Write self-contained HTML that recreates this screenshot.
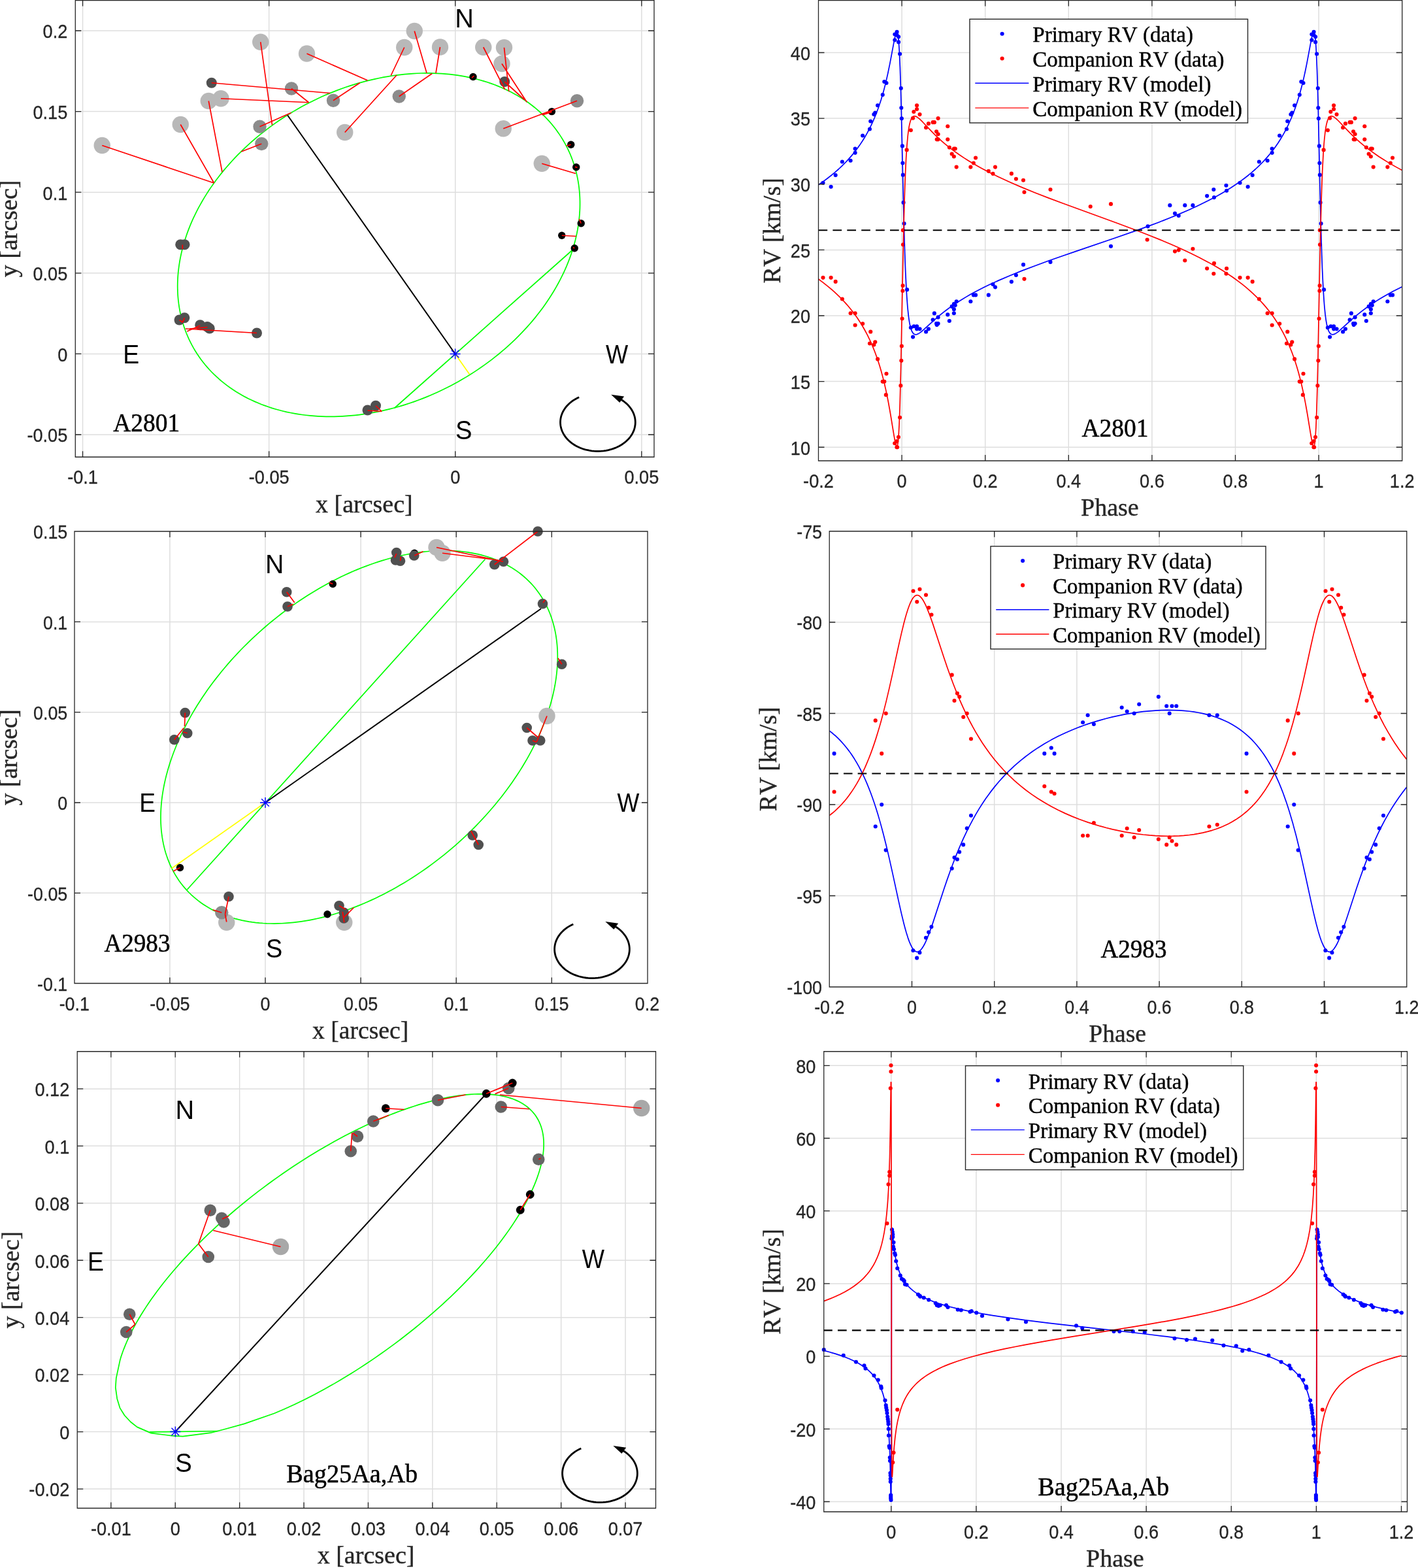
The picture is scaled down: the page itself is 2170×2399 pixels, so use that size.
<!DOCTYPE html>
<html><head><meta charset="utf-8"><title>Orbits and RV curves</title>
<style>html,body{margin:0;padding:0;background:#fff}svg{display:block}text{font-kerning:none}</style></head>
<body>
<svg width="2170" height="2399" viewBox="0 0 2170 2399">
<rect width="2170" height="2399" fill="#fff"/>
<defs>
<clipPath id="c1"><rect x="115.3" y="0.5" width="885.7" height="698.75"/></clipPath>
<clipPath id="c2"><rect x="114" y="813" width="877" height="691.5"/></clipPath>
<clipPath id="c3"><rect x="118.25" y="1608.75" width="885.25" height="698.75"/></clipPath>
<clipPath id="c4"><rect x="1252.5" y="0.5" width="893.25" height="704.5"/></clipPath>
<clipPath id="c5"><rect x="1269.25" y="812.75" width="883.5" height="697.25"/></clipPath>
<clipPath id="c6"><rect x="1260.75" y="1608.75" width="892.75" height="704.25"/></clipPath>
</defs>
<rect x="115.3" y="0.5" width="885.7" height="698.75" fill="#fff"/>
<path d="M126.55 0.5V699.25M411.65 0.5V699.25M696.75 0.5V699.25M981.85 0.5V699.25M115.3 665H1001M115.3 541.4H1001M115.3 417.8H1001M115.3 294.2H1001M115.3 170.6H1001M115.3 47H1001" stroke="#dedede" stroke-width="1.5" fill="none"/>
<path d="M876 382.5L603.75 624.25" stroke="#00ff00" stroke-width="1.7" fill="none" clip-path="url(#c1)"/>
<path d="M293.8 528.15 296.27 532.6 298.87 536.98 301.59 541.28 304.43 545.51 307.39 549.67 310.47 553.75 313.67 557.75 316.99 561.66 320.43 565.5 323.98 569.25 327.64 572.92 331.42 576.49 335.3 579.98 339.29 583.38 343.39 586.69 347.59 589.9 351.89 593.02 356.3 596.04 360.8 598.96 365.4 601.79 370.1 604.51 374.88 607.13 379.76 609.65 384.73 612.07 389.78 614.38 394.92 616.58 400.13 618.68 405.43 620.67 410.8 622.55 416.25 624.33 421.77 625.99 427.36 627.54 433.02 628.98 438.74 630.31 444.53 631.52 450.37 632.62 456.27 633.61 462.23 634.48 468.23 635.24 474.29 635.88 480.39 636.41 486.54 636.82 492.73 637.12 498.95 637.3 505.21 637.36 511.51 637.31 517.83 637.14 524.19 636.86 530.56 636.46 536.96 635.94 543.38 635.31 549.81 634.57 556.26 633.71 562.71 632.73 569.18 631.64 575.65 630.44 582.12 629.13 588.59 627.7 595.05 626.16 601.51 624.51 607.96 622.75 614.4 620.88 620.82 618.9 627.22 616.81 633.6 614.62 639.96 612.32 646.29 609.91 652.59 607.4 658.86 604.79 665.1 602.08 671.3 599.26 677.45 596.35 683.57 593.34 689.63 590.23 695.65 587.03 701.62 583.74 707.53 580.35 713.39 576.87 719.19 573.3 724.93 569.64 730.6 565.9 736.2 562.07 741.74 558.16 747.21 554.17 752.6 550.1 757.91 545.95 763.15 541.73 768.3 537.43 773.37 533.06 778.36 528.63 783.26 524.12 788.07 519.55 792.78 514.91 797.41 510.21 801.93 505.45 806.36 500.64 810.69 495.76 814.91 490.84 819.04 485.86 823.05 480.83 826.96 475.76 830.76 470.64 834.45 465.48 838.02 460.28 841.49 455.05 844.83 449.77 848.06 444.47 851.17 439.13 854.16 433.76 857.03 428.37 859.78 422.95 862.4 417.52 864.9 412.06 867.28 406.59 869.52 401.1 871.64 395.6 873.63 390.1 875.49 384.58 877.21 379.06 878.81 373.54 880.28 368.02 881.61 362.5 882.81 356.99 883.87 351.49 884.8 345.99 885.6 340.51 886.26 335.05 886.78 329.6 887.17 324.17 887.43 318.76 887.54 313.38 887.53 308.02 887.37 302.7 887.08 297.41 886.66 292.15 886.09 286.92 885.4 281.74 884.57 276.59 883.6 271.49 882.5 266.44 881.26 261.43 879.9 256.48 878.4 251.57 876.77 246.72 875 241.93 873.11 237.19 871.09 232.52 868.93 227.9 866.65 223.36 864.25 218.88 861.72 214.47 859.06 210.12 856.28 205.86 853.38 201.66 850.35 197.55 847.21 193.51 843.95 189.55 840.57 185.67 837.08 181.88 833.47 178.17 829.75 174.55 825.93 171.01 821.99 167.57 817.94 164.22 813.79 160.96 809.54 157.79 805.19 154.72 800.73 151.75 796.18 148.88 791.53 146.1 786.79 143.43 781.96 140.86 777.04 138.39 772.03 136.03 766.93 133.77 761.76 131.62 756.5 129.57 751.16 127.63 745.75 125.81 740.27 124.09 734.71 122.48 729.09 120.99 723.4 119.6 717.64 118.33 711.83 117.18 705.96 116.13 700.03 115.2 694.05 114.39 688.01 113.69 681.93 113.1 675.81 112.63 669.64 112.28 663.43 112.04 657.19 111.92 650.91 111.91 644.6 112.02 638.26 112.25 631.9 112.59 625.51 113.05 619.1 113.62 612.68 114.31 606.24 115.11 599.78 116.03 593.32 117.06 586.86 118.21 580.39 119.47 573.92 120.84 567.45 122.32 560.99 123.92 554.53 125.62 548.09 127.44 541.66 129.36 535.25 131.39 528.86 133.54 522.49 135.78 516.14 138.13 509.82 140.59 503.54 143.15 497.28 145.81 491.07 148.58 484.89 151.44 478.76 154.4 472.66 157.46 466.62 160.62 460.63 163.87 454.69 167.21 448.8 170.64 442.97 174.17 437.2 177.78 431.5 181.48 425.86 185.27 420.29 189.13 414.79 193.09 409.36 197.12 404.01 201.22 398.73 205.41 393.53 209.67 388.42 214 383.39 218.41 378.45 222.88 373.6 227.42 368.83 232.03 364.16 236.69 359.59 241.42 355.11 246.21 350.73 251.06 346.46 255.96 342.28 260.91 338.21 265.91 334.25 270.96 330.4 276.05 326.65 281.19 323.02 286.37 319.5 291.59 316.09 296.85 312.81 302.14 309.64 307.46 306.59 312.81 303.66 318.19 300.85 323.6 298.16 329.02 295.6 334.47 293.16 339.94 290.86 345.42 288.67 350.91 286.62 356.41 284.7 361.92 282.9 367.44 281.24 372.96 279.71 378.48 278.31 384 277.05 389.51 275.91 395.02 274.92 400.52 274.05 406.01 273.33 411.48 272.73 416.94 272.27 422.38 271.95 427.8 271.77 433.19 271.72 438.56 271.8 443.9 272.03 449.21 272.38 454.49 272.88 459.73 273.51 464.94 274.27 470.1 275.17 475.22 276.2 480.3 277.37 485.33 278.67 490.31 280.11 495.25 281.67 500.12 283.37 504.95 285.2 509.71 287.16 514.42 289.24 519.06 291.46 523.64 293.8 528.15" stroke="#00ff00" stroke-width="1.7" fill="none" stroke-linejoin="round" clip-path="url(#c1)"/>
<path d="M440 176.25L696.6 541.5" stroke="#000" stroke-width="2.0" fill="none" clip-path="url(#c1)"/>
<path d="M696.6 541.5L718.75 573" stroke="#ffff00" stroke-width="1.7" fill="none" clip-path="url(#c1)"/>
<circle cx="156.25" cy="222.5" r="12.7" fill="#b8b8b8"/>
<circle cx="276.25" cy="190.5" r="12.7" fill="#b8b8b8"/>
<circle cx="319.25" cy="154.5" r="12.7" fill="#b8b8b8"/>
<circle cx="338" cy="150.75" r="12.7" fill="#b8b8b8"/>
<circle cx="398.75" cy="64.25" r="12.7" fill="#b8b8b8"/>
<circle cx="469.5" cy="82" r="12.7" fill="#b8b8b8"/>
<circle cx="618.75" cy="72.5" r="12.7" fill="#b8b8b8"/>
<circle cx="634.25" cy="47.5" r="12.7" fill="#b8b8b8"/>
<circle cx="673.5" cy="72" r="12.7" fill="#b8b8b8"/>
<circle cx="739.75" cy="72.25" r="12.7" fill="#b8b8b8"/>
<circle cx="771.5" cy="72.75" r="12.7" fill="#b8b8b8"/>
<circle cx="768" cy="97.5" r="12.7" fill="#b8b8b8"/>
<circle cx="527.75" cy="202.5" r="12.7" fill="#b8b8b8"/>
<circle cx="770.25" cy="196.75" r="12.7" fill="#b8b8b8"/>
<circle cx="829.25" cy="250.25" r="12.7" fill="#b8b8b8"/>
<circle cx="446" cy="135.5" r="10.2" fill="#8c8c8c"/>
<circle cx="397.5" cy="193.75" r="10.2" fill="#8c8c8c"/>
<circle cx="400.25" cy="220" r="10.2" fill="#8c8c8c"/>
<circle cx="510" cy="153.75" r="10.2" fill="#8c8c8c"/>
<circle cx="610.75" cy="147.5" r="10.2" fill="#8c8c8c"/>
<circle cx="883" cy="154.25" r="10.2" fill="#8c8c8c"/>
<circle cx="323.75" cy="126.75" r="8.0" fill="#505050"/>
<circle cx="772.25" cy="125" r="8.0" fill="#505050"/>
<circle cx="276.25" cy="374.25" r="8.0" fill="#505050"/>
<circle cx="282.5" cy="374.25" r="8.0" fill="#505050"/>
<circle cx="274.5" cy="489.5" r="8.0" fill="#505050"/>
<circle cx="282.3" cy="486.25" r="8.0" fill="#505050"/>
<circle cx="306.25" cy="497.25" r="8.0" fill="#505050"/>
<circle cx="317.25" cy="500" r="8.0" fill="#505050"/>
<circle cx="320.75" cy="502.5" r="8.0" fill="#505050"/>
<circle cx="393" cy="509.5" r="8.0" fill="#505050"/>
<circle cx="562.5" cy="627.5" r="8.0" fill="#505050"/>
<circle cx="575" cy="620.75" r="8.0" fill="#505050"/>
<circle cx="724" cy="117.5" r="5.7" fill="#000000"/>
<circle cx="844.4" cy="170.6" r="5.7" fill="#000000"/>
<circle cx="873.75" cy="221.25" r="5.7" fill="#000000"/>
<circle cx="881.75" cy="255.75" r="5.7" fill="#000000"/>
<circle cx="889.25" cy="341.75" r="5.7" fill="#000000"/>
<circle cx="859.75" cy="360.25" r="5.7" fill="#000000"/>
<circle cx="879.25" cy="379.75" r="5.7" fill="#000000"/>
<path d="M156.25 222.5L327.5 280M276.25 190.5L327.5 280M319.25 154.5L340 263.25M338 150.75L472.5 156.75M398.75 64.25L416.5 191.25M469.5 82L562.5 123M618.75 72.5L598.25 115.5M634.25 47.5L653 111.75M673.5 72L667 111.75M739.75 72.25L772.5 136.75M771.5 72.75L778.75 140M768 97.5L806.25 156.25M527.75 202.5L607 115M770.25 196.75L883 154.25M829.25 250.25L881 265.5M446 135.5L472.5 156.75M397.5 193.75L445.5 172.5M400.25 220L369.25 232M510 153.75L550.75 126.75M610.75 147.5L661.25 112.5M323.75 126.75L505 142.5M772.25 125L802.5 152.5M279.3 374.5L279.3 381M274.5 489.5L279.5 493.2M282.3 486.25L279.5 493.2M393 509.5L283.75 503M317.5 500.5L290 503M306.25 498L286.25 507M562.5 628L584.25 629.5M575 620.75L584.25 629.5M722 119L725.5 116.2M873.75 221.25L866.75 223.25M880 255.4L883.5 256.2M889.25 341.75L886.25 335M859.75 360.25L881.75 361.5M879.25 379.75L877 378.6" stroke="#ff0000" stroke-width="1.7" fill="none" clip-path="url(#c1)"/>
<path d="M829.75 175.2L844.4 170.6" stroke="#ff0000" stroke-width="3" fill="none" clip-path="url(#c1)"/>
<path d="M688.6 541.5h16M696.6 533.5v16M690.8 535.7l11.6 11.6M690.8 547.3l11.6 -11.6" stroke="#0000ff" stroke-width="1.4" fill="none"/>
<text transform="translate(696.3 41.9) scale(0.984 1)" font-family="'Liberation Sans', sans-serif" font-size="40.3" fill="#000">N</text>
<text transform="translate(188.3 556.3) scale(0.927 1)" font-family="'Liberation Sans', sans-serif" font-size="40.3" fill="#000">E</text>
<text transform="translate(697 672) scale(0.95 1)" font-family="'Liberation Sans', sans-serif" font-size="40.3" fill="#000">S</text>
<text transform="translate(927 556.3) scale(0.9 1)" font-family="'Liberation Sans', sans-serif" font-size="40.3" fill="#000">W</text>
<text transform="translate(173.3 660) scale(0.934 1)" font-family="'Liberation Serif', serif" font-size="40.1" fill="#000" stroke="#000" stroke-width="0.5" text-anchor="start">A2801</text>
<path d="M886.2 607.74 L883.06 609.24 L880.04 610.9 L877.18 612.71 L874.46 614.66 L871.92 616.73 L869.56 618.93 L867.38 621.25 L865.41 623.66 L863.64 626.17 L862.08 628.76 L860.74 631.43 L859.63 634.15 L858.74 636.93 L858.09 639.74 L857.68 642.58 L857.51 645.43 L857.57 648.29 L857.87 651.14 L858.41 653.97 L859.19 656.76 L860.19 659.51 L861.43 662.2 L862.88 664.83 L864.56 667.38 L866.44 669.84 L868.52 672.2 L870.8 674.46 L873.26 676.59 L875.89 678.6 L878.69 680.47 L881.63 682.2 L884.72 683.78 L887.93 685.21 L891.25 686.47 L894.67 687.56 L898.18 688.48 L901.75 689.22 L905.38 689.79 L909.05 690.17 L912.74 690.37 L916.45 690.38 L920.14 690.21 L923.82 689.86 L927.45 689.33 L931.04 688.61 L934.56 687.72 L937.99 686.66 L941.33 685.42 L944.56 684.03 L947.67 682.47 L950.64 680.77 L953.46 678.92 L956.12 676.93 L958.61 674.81 L960.92 672.58 L963.03 670.24 L964.95 667.79 L966.66 665.26 L968.15 662.64 L969.42 659.96 L970.46 657.22 L971.28 654.43 L971.85 651.61 L972.2 648.76 L972.3 645.9 L972.16 643.05 L971.79 640.21 L971.18 637.39 L970.33 634.61 L969.26 631.87 L967.96 629.2 L966.44 626.59 L964.7 624.07 L962.75 621.64 L960.61 619.31 L958.28 617.09 L955.76 614.99 L953.08 613.02 L950.24 611.19" stroke="#000" stroke-width="2.8" fill="none"/>
<path d="M935.2 603.8L955.1 606.5L948.3 615.9Z" fill="#000"/>
<path d="M115.3 0.5H1001V699.25H115.3ZM126.55 699.25v-9M126.55 0.5v9M411.65 699.25v-9M411.65 0.5v9M696.75 699.25v-9M696.75 0.5v9M981.85 699.25v-9M981.85 0.5v9M115.3 665h9M1001 665h-9M115.3 541.4h9M1001 541.4h-9M115.3 417.8h9M1001 417.8h-9M115.3 294.2h9M1001 294.2h-9M115.3 170.6h9M1001 170.6h-9M115.3 47h9M1001 47h-9" stroke="#262626" stroke-width="1.3" fill="none" stroke-linecap="butt"/>
<g font-family="'Liberation Sans', sans-serif" font-size="30" fill="#262626" stroke="#262626" stroke-width="0.3">
<text transform="translate(126.55 740.25) scale(0.905 1)" text-anchor="middle">-0.1</text>
<text transform="translate(411.65 740.25) scale(0.905 1)" text-anchor="middle">-0.05</text>
<text transform="translate(696.75 740.25) scale(0.905 1)" text-anchor="middle">0</text>
<text transform="translate(981.85 740.25) scale(0.905 1)" text-anchor="middle">0.05</text>
<text transform="translate(103.3 676.3) scale(0.905 1)" text-anchor="end">-0.05</text>
<text transform="translate(103.3 552.7) scale(0.905 1)" text-anchor="end">0</text>
<text transform="translate(103.3 429.1) scale(0.905 1)" text-anchor="end">0.05</text>
<text transform="translate(103.3 305.5) scale(0.905 1)" text-anchor="end">0.1</text>
<text transform="translate(103.3 181.9) scale(0.905 1)" text-anchor="end">0.15</text>
<text transform="translate(103.3 58.3) scale(0.905 1)" text-anchor="end">0.2</text>
</g>
<g font-family="'Liberation Serif', serif" font-size="38" fill="#262626" stroke="#262626" stroke-width="0.4">
<text x="557.35" y="783.55" text-anchor="middle">x [arcsec]</text>
<text transform="translate(25.6 349.88) rotate(-90)" text-anchor="middle">y [arcsec]</text>
</g>
<rect x="114" y="813" width="877" height="691.5" fill="#fff"/>
<path d="M259.9 813V1504.5M406 813V1504.5M552.1 813V1504.5M698.2 813V1504.5M844.3 813V1504.5M114 1366.3H991M114 1228H991M114 1089.7H991M114 951.4H991" stroke="#dedede" stroke-width="1.5" fill="none"/>
<path d="M742.5 855.5L286.25 1361.25" stroke="#00ff00" stroke-width="1.7" fill="none" clip-path="url(#c2)"/>
<path d="M282.82 1358.67 285.92 1362.14 289.15 1365.5 292.48 1368.76 295.93 1371.92 299.5 1374.96 303.17 1377.9 306.95 1380.73 310.84 1383.44 314.84 1386.04 318.93 1388.53 323.13 1390.91 327.44 1393.16 331.83 1395.3 336.33 1397.32 340.92 1399.23 345.6 1401.01 350.37 1402.67 355.23 1404.21 360.17 1405.63 365.2 1406.92 370.31 1408.1 375.5 1409.14 380.77 1410.07 386.11 1410.87 391.52 1411.54 397 1412.09 402.55 1412.51 408.17 1412.81 413.85 1412.98 419.58 1413.03 425.38 1412.95 431.23 1412.74 437.13 1412.41 443.08 1411.95 449.08 1411.37 455.12 1410.66 461.21 1409.83 467.33 1408.87 473.49 1407.79 479.69 1406.58 485.91 1405.26 492.16 1403.8 498.44 1402.23 504.74 1400.54 511.06 1398.72 517.4 1396.79 523.75 1394.73 530.12 1392.56 536.49 1390.27 542.87 1387.87 549.25 1385.35 555.63 1382.72 562.01 1379.97 568.38 1377.12 574.74 1374.15 581.1 1371.07 587.44 1367.89 593.76 1364.6 600.06 1361.21 606.34 1357.71 612.6 1354.11 618.83 1350.41 625.03 1346.62 631.19 1342.72 637.32 1338.73 643.41 1334.65 649.46 1330.48 655.46 1326.22 661.42 1321.87 667.33 1317.43 673.18 1312.91 678.99 1308.31 684.73 1303.63 690.42 1298.87 696.04 1294.04 701.6 1289.13 707.09 1284.15 712.51 1279.1 717.86 1273.99 723.13 1268.81 728.33 1263.56 733.45 1258.26 738.49 1252.9 743.45 1247.49 748.32 1242.02 753.1 1236.5 757.79 1230.94 762.39 1225.32 766.9 1219.67 771.31 1213.97 775.62 1208.24 779.83 1202.47 783.94 1196.67 787.95 1190.84 791.85 1184.98 795.65 1179.09 799.33 1173.18 802.91 1167.25 806.37 1161.31 809.73 1155.35 812.96 1149.37 816.08 1143.39 819.08 1137.4 821.97 1131.41 824.73 1125.41 827.37 1119.42 829.89 1113.43 832.29 1107.44 834.56 1101.47 836.7 1095.51 838.72 1089.56 840.61 1083.62 842.37 1077.71 844 1071.82 845.51 1065.95 846.88 1060.11 848.12 1054.3 849.23 1048.53 850.2 1042.78 851.05 1037.08 851.76 1031.42 852.34 1025.79 852.78 1020.22 853.09 1014.69 853.27 1009.21 853.31 1003.78 853.22 998.41 852.99 993.09 852.63 987.84 852.13 982.64 851.51 977.51 850.75 972.45 849.85 967.45 848.82 962.53 847.67 957.68 846.38 952.9 844.95 948.2 843.4 943.58 841.72 939.05 839.91 934.59 837.97 930.22 835.91 925.94 833.71 921.74 831.4 917.64 828.95 913.63 826.39 909.72 823.7 905.9 820.89 902.18 817.96 898.55 814.92 895.03 811.75 891.62 808.47 888.3 805.08 885.09 801.57 881.99 797.95 879 794.22 876.12 790.39 873.35 786.45 870.69 782.4 868.15 778.25 865.71 774 863.4 769.65 861.2 765.2 859.12 760.66 857.16 756.03 855.32 751.3 853.59 746.48 851.99 741.58 850.51 736.6 849.16 731.53 847.92 726.38 846.81 721.15 845.83 715.84 844.96 710.47 844.23 705.02 843.62 699.5 843.13 693.92 842.77 688.27 842.53 682.57 842.42 676.8 842.44 670.98 842.58 665.1 842.85 659.17 843.25 653.2 843.77 647.18 844.41 641.11 845.19 635.01 846.08 628.87 847.1 622.69 848.24 616.48 849.51 610.24 850.9 603.97 852.41 597.68 854.05 591.37 855.8 585.04 857.68 578.7 859.67 572.34 861.78 565.97 864.01 559.6 866.36 553.22 868.82 546.83 871.4 540.45 874.09 534.08 876.89 527.71 879.8 521.35 882.82 515 885.95 508.67 889.19 502.36 892.53 496.07 895.98 489.8 899.52 483.55 903.17 477.34 906.92 471.16 910.77 465.01 914.71 458.9 918.74 452.83 922.87 446.81 927.09 440.82 931.39 434.89 935.79 429.01 940.27 423.18 944.83 417.41 949.47 411.69 954.19 406.04 958.99 400.45 963.86 394.92 968.8 389.46 973.81 384.08 978.9 378.77 984.04 373.53 989.25 368.37 994.53 363.29 999.86 358.29 1005.25 353.38 1010.69 348.55 1016.18 343.82 1021.72 339.17 1027.31 334.62 1032.95 330.16 1038.62 325.8 1044.34 321.53 1050.09 317.37 1055.87 313.31 1061.69 309.36 1067.54 305.51 1073.41 301.77 1079.31 298.14 1085.23 294.62 1091.16 291.21 1097.12 287.91 1103.09 284.74 1109.06 281.67 1115.05 278.73 1121.04 275.91 1127.04 273.21 1133.03 270.62 1139.02 268.17 1145.01 265.83 1150.99 263.63 1156.96 261.55 1162.92 259.59 1168.86 257.76 1174.78 256.07 1180.69 254.5 1186.57 253.06 1192.42 251.76 1198.24 250.58 1204.04 249.54 1209.8 248.63 1215.52 247.85 1221.2 247.21 1226.85 246.7 1232.45 246.32 1238 246.08 1243.51 245.97 1248.96 245.99 1254.36 246.15 1259.7 246.45 1264.99 246.87 1270.22 247.44 1275.38 248.13 1280.47 248.96 1285.5 249.92 1290.46 251.01 1295.35 252.23 1300.17 253.59 1304.9 255.08 1309.56 256.69 1314.14 258.44 1318.64 260.31 1323.05 262.32 1327.38 264.45 1331.62 266.7 1335.77 269.08 1339.82 271.59 1343.79 274.21 1347.65 276.96 1351.42 279.83 1355.1 282.82 1358.67" stroke="#00ff00" stroke-width="1.7" fill="none" stroke-linejoin="round" clip-path="url(#c2)"/>
<path d="M406 1228L828 931.25" stroke="#000" stroke-width="2.0" fill="none" clip-path="url(#c2)"/>
<path d="M406 1228L262.5 1328.75" stroke="#ffff00" stroke-width="1.7" fill="none" clip-path="url(#c2)"/>
<circle cx="668" cy="837.5" r="12.7" fill="#b8b8b8"/>
<circle cx="677" cy="846.25" r="12.7" fill="#b8b8b8"/>
<circle cx="837" cy="1095.5" r="12.7" fill="#b8b8b8"/>
<circle cx="346.75" cy="1411.25" r="12.7" fill="#b8b8b8"/>
<circle cx="526.75" cy="1411.25" r="12.7" fill="#b8b8b8"/>
<circle cx="339.25" cy="1396.25" r="10.2" fill="#8c8c8c"/>
<circle cx="438.75" cy="905.75" r="7.8" fill="#505050"/>
<circle cx="440" cy="928" r="7.8" fill="#505050"/>
<circle cx="283.25" cy="1090.5" r="7.8" fill="#505050"/>
<circle cx="286.75" cy="1121.75" r="7.8" fill="#505050"/>
<circle cx="266.75" cy="1131.75" r="7.8" fill="#505050"/>
<circle cx="634.25" cy="846.25" r="5.7" fill="#000000"/>
<circle cx="633.75" cy="850" r="7.8" fill="#505050"/>
<circle cx="606.75" cy="845.5" r="7.8" fill="#505050"/>
<circle cx="605.5" cy="857" r="7.8" fill="#505050"/>
<circle cx="612.5" cy="858.25" r="7.8" fill="#505050"/>
<circle cx="756.75" cy="863.75" r="7.8" fill="#505050"/>
<circle cx="770.5" cy="859.25" r="7.8" fill="#505050"/>
<circle cx="823" cy="813" r="7.8" fill="#505050"/>
<circle cx="830.5" cy="923.75" r="7.8" fill="#505050"/>
<circle cx="859.75" cy="1016.25" r="7.8" fill="#505050"/>
<circle cx="806.25" cy="1113.5" r="7.8" fill="#505050"/>
<circle cx="815" cy="1133" r="7.8" fill="#505050"/>
<circle cx="826.75" cy="1133" r="7.8" fill="#505050"/>
<circle cx="723.25" cy="1278" r="7.8" fill="#505050"/>
<circle cx="732.25" cy="1292.5" r="7.8" fill="#505050"/>
<circle cx="350" cy="1371.75" r="7.8" fill="#505050"/>
<circle cx="519" cy="1385.75" r="7.8" fill="#505050"/>
<circle cx="526.25" cy="1396.25" r="7.8" fill="#505050"/>
<circle cx="526.25" cy="1405" r="7.8" fill="#505050"/>
<circle cx="509.25" cy="893.5" r="5.7" fill="#000000"/>
<circle cx="275.5" cy="1327.5" r="5.7" fill="#000000"/>
<circle cx="501" cy="1398.75" r="5.7" fill="#000000"/>
<path d="M438.75 905.75L450.75 922M440 928L448.75 924.25M283.25 1090.5L282.5 1111.25M286.75 1121.75L280 1120M266.75 1131.75L281.25 1113.75M606.75 847L604 853M612.5 858L613.5 852M634.25 850L647.5 843.75M823 813L756.75 863.75M831 922L834 918M859.75 1016.25L854 1007M806.25 1113.5L822.5 1127.5M815 1133L821 1135.5M720.75 1271.25L732.25 1292.5M350 1371.75L344.5 1398.75M344.5 1398.75L346.75 1410.5M519 1385.75L528.75 1391.25M541.25 1388.75L526.25 1403.75M524.25 1395L526.75 1411.25M668 837.5L770 859.25M677 846.25L762.5 857M837 1095.5L821.25 1135M339.25 1396.25L325.75 1392M509.25 893.5L503.75 891.25M275.5 1327.5L265 1333" stroke="#ff0000" stroke-width="1.7" fill="none"/>
<path d="M398 1228h16M406 1220v16M400.2 1222.2l11.6 11.6M400.2 1233.8l11.6 -11.6" stroke="#0000ff" stroke-width="1.4" fill="none"/>
<text transform="translate(406 876.9) scale(0.984 1)" font-family="'Liberation Sans', sans-serif" font-size="39.9" fill="#000">N</text>
<text transform="translate(213.3 1242.3) scale(0.927 1)" font-family="'Liberation Sans', sans-serif" font-size="39.9" fill="#000">E</text>
<text transform="translate(407 1464.6) scale(0.95 1)" font-family="'Liberation Sans', sans-serif" font-size="39.9" fill="#000">S</text>
<text transform="translate(944.5 1242.3) scale(0.9 1)" font-family="'Liberation Sans', sans-serif" font-size="39.9" fill="#000">W</text>
<text transform="translate(159.5 1456.3) scale(0.934 1)" font-family="'Liberation Serif', serif" font-size="39.7" fill="#000" stroke="#000" stroke-width="0.5" text-anchor="start">A2983</text>
<path d="M877.3 1413.94 L874.16 1415.44 L871.14 1417.1 L868.28 1418.91 L865.56 1420.86 L863.02 1422.93 L860.66 1425.13 L858.48 1427.45 L856.51 1429.86 L854.74 1432.37 L853.18 1434.96 L851.84 1437.63 L850.73 1440.35 L849.84 1443.13 L849.19 1445.94 L848.78 1448.78 L848.61 1451.63 L848.67 1454.49 L848.97 1457.34 L849.51 1460.17 L850.29 1462.96 L851.29 1465.71 L852.53 1468.4 L853.98 1471.03 L855.66 1473.58 L857.54 1476.04 L859.62 1478.4 L861.9 1480.66 L864.36 1482.79 L866.99 1484.8 L869.79 1486.67 L872.73 1488.4 L875.82 1489.98 L879.03 1491.41 L882.35 1492.67 L885.77 1493.76 L889.28 1494.68 L892.85 1495.42 L896.48 1495.99 L900.15 1496.37 L903.84 1496.57 L907.55 1496.58 L911.24 1496.41 L914.92 1496.06 L918.55 1495.53 L922.14 1494.81 L925.66 1493.92 L929.09 1492.86 L932.43 1491.62 L935.66 1490.23 L938.77 1488.67 L941.74 1486.97 L944.56 1485.12 L947.22 1483.13 L949.71 1481.01 L952.02 1478.78 L954.13 1476.44 L956.05 1473.99 L957.76 1471.46 L959.25 1468.84 L960.52 1466.16 L961.56 1463.42 L962.38 1460.63 L962.95 1457.81 L963.3 1454.96 L963.4 1452.1 L963.26 1449.25 L962.89 1446.41 L962.28 1443.59 L961.43 1440.81 L960.36 1438.07 L959.06 1435.4 L957.54 1432.79 L955.8 1430.27 L953.85 1427.84 L951.71 1425.51 L949.38 1423.29 L946.86 1421.19 L944.18 1419.22 L941.34 1417.39" stroke="#000" stroke-width="2.8" fill="none"/>
<path d="M926.3 1410L946.2 1412.7L939.4 1422.1Z" fill="#000"/>
<path d="M114 813H991V1504.5H114ZM259.9 1504.5v-9M259.9 813v9M406 1504.5v-9M406 813v9M552.1 1504.5v-9M552.1 813v9M698.2 1504.5v-9M698.2 813v9M844.3 1504.5v-9M844.3 813v9M114 1366.3h9M991 1366.3h-9M114 1228h9M991 1228h-9M114 1089.7h9M991 1089.7h-9M114 951.4h9M991 951.4h-9" stroke="#262626" stroke-width="1.3" fill="none" stroke-linecap="butt"/>
<g font-family="'Liberation Sans', sans-serif" font-size="29.7" fill="#262626" stroke="#262626" stroke-width="0.3">
<text transform="translate(113.8 1545.5) scale(0.905 1)" text-anchor="middle">-0.1</text>
<text transform="translate(259.9 1545.5) scale(0.905 1)" text-anchor="middle">-0.05</text>
<text transform="translate(406 1545.5) scale(0.905 1)" text-anchor="middle">0</text>
<text transform="translate(552.1 1545.5) scale(0.905 1)" text-anchor="middle">0.05</text>
<text transform="translate(698.2 1545.5) scale(0.905 1)" text-anchor="middle">0.1</text>
<text transform="translate(844.3 1545.5) scale(0.905 1)" text-anchor="middle">0.15</text>
<text transform="translate(990.4 1545.5) scale(0.905 1)" text-anchor="middle">0.2</text>
<text transform="translate(103.3 1515.9) scale(0.905 1)" text-anchor="end">-0.1</text>
<text transform="translate(103.3 1377.6) scale(0.905 1)" text-anchor="end">-0.05</text>
<text transform="translate(103.3 1239.3) scale(0.905 1)" text-anchor="end">0</text>
<text transform="translate(103.3 1101) scale(0.905 1)" text-anchor="end">0.05</text>
<text transform="translate(103.3 962.7) scale(0.905 1)" text-anchor="end">0.1</text>
<text transform="translate(103.3 824.4) scale(0.905 1)" text-anchor="end">0.15</text>
</g>
<g font-family="'Liberation Serif', serif" font-size="37.62" fill="#262626" stroke="#262626" stroke-width="0.4">
<text x="551.7" y="1588.8" text-anchor="middle">x [arcsec]</text>
<text transform="translate(26.3 1158.75) rotate(-90)" text-anchor="middle">y [arcsec]</text>
</g>
<rect x="118.25" y="1608.75" width="885.25" height="698.75" fill="#fff"/>
<path d="M169.85 1608.75V2307.5M268.25 1608.75V2307.5M366.65 1608.75V2307.5M465.05 1608.75V2307.5M563.45 1608.75V2307.5M661.85 1608.75V2307.5M760.25 1608.75V2307.5M858.65 1608.75V2307.5M957.05 1608.75V2307.5M118.25 2278.05H1003.5M118.25 2190.6H1003.5M118.25 2103.15H1003.5M118.25 2015.7H1003.5M118.25 1928.25H1003.5M118.25 1840.8H1003.5M118.25 1753.35H1003.5M118.25 1665.9H1003.5" stroke="#dedede" stroke-width="1.5" fill="none"/>
<path d="M229.1 2190.9L333.2 2189.5" stroke="#00ff00" stroke-width="1.7" fill="none" clip-path="url(#c3)"/>
<path d="M419.55 2162.5 427.16 2159.31 434.81 2155.98 442.51 2152.53 450.24 2148.96 458 2145.26 465.79 2141.44 473.61 2137.5 481.44 2133.45 489.28 2129.28 497.13 2125 504.99 2120.61 512.84 2116.12 520.7 2111.52 528.54 2106.82 536.37 2102.02 544.18 2097.13 551.97 2092.14 559.73 2087.06 567.46 2081.89 575.15 2076.64 582.8 2071.31 590.41 2065.9 597.97 2060.42 605.47 2054.86 612.92 2049.24 620.3 2043.54 627.62 2037.79 634.87 2031.98 642.04 2026.11 649.13 2020.19 656.14 2014.22 663.07 2008.21 669.9 2002.15 676.64 1996.06 683.27 1989.93 689.81 1983.77 696.24 1977.58 702.55 1971.37 708.76 1965.14 714.84 1958.89 720.81 1952.62 726.65 1946.35 732.36 1940.07 737.94 1933.79 743.39 1927.51 748.7 1921.23 753.87 1914.96 758.9 1908.7 763.78 1902.46 768.51 1896.24 773.09 1890.04 777.51 1883.87 781.78 1877.72 785.88 1871.61 789.83 1865.54 793.61 1859.51 797.22 1853.52 800.67 1847.58 803.95 1841.69 807.05 1835.85 809.98 1830.07 812.73 1824.35 815.31 1818.69 817.71 1813.11 819.92 1807.59 821.96 1802.14 823.81 1796.78 825.48 1791.49 826.96 1786.29 828.26 1781.17 829.37 1776.14 830.3 1771.2 831.04 1766.36 831.59 1761.62 831.95 1756.97 832.12 1752.43 832.11 1747.99 831.9 1743.66 831.51 1739.45 830.93 1735.34 830.16 1731.35 829.2 1727.48 828.06 1723.73 826.73 1720.1 825.22 1716.59 823.52 1713.21 821.63 1709.96 819.57 1706.84 817.32 1703.84 814.89 1700.99 812.29 1698.27 809.51 1695.68 806.55 1693.23 803.41 1690.93 800.11 1688.76 796.64 1686.74 792.99 1684.86 789.19 1683.12 785.21 1681.53 781.08 1680.08 776.79 1678.79 772.34 1677.64 767.73 1676.63 762.98 1675.78 758.07 1675.08 753.02 1674.53 747.83 1674.13 742.5 1673.87 737.03 1673.77 731.42 1673.82 725.69 1674.02 719.83 1674.38 713.84 1674.88 707.74 1675.53 701.51 1676.33 695.18 1677.28 688.73 1678.38 682.18 1679.63 675.52 1681.03 668.77 1682.57 661.93 1684.26 654.99 1686.09 647.96 1688.06 640.86 1690.18 633.67 1692.44 626.41 1694.84 619.08 1697.38 611.69 1700.06 604.23 1702.87 596.72 1705.81 589.15 1708.89 581.54 1712.1 573.88 1715.44 566.18 1718.9 558.44 1722.49 550.68 1726.2 542.88 1730.03 535.07 1733.99 527.24 1738.05 519.39 1742.23 511.54 1746.52 503.68 1750.92 495.83 1755.43 487.98 1760.04 480.14 1764.75 472.31 1769.56 464.5 1774.47 456.71 1779.47 448.96 1784.56 441.23 1789.73 433.54 1794.99 425.89 1800.33 418.29 1805.75 410.74 1811.24 403.24 1816.81 395.8 1822.44 388.42 1828.14 381.11 1833.9 373.88 1839.72 366.71 1845.59 359.63 1851.51 352.63 1857.49 345.71 1863.51 338.89 1869.57 332.17 1875.67 325.54 1881.8 319.02 1887.96 312.6 1894.15 306.3 1900.37 300.11 1906.6 294.03 1912.86 288.08 1919.12 282.26 1925.39 276.56 1931.67 270.99 1937.96 265.56 1944.24 260.26 1950.51 255.11 1956.78 250.1 1963.04 245.24 1969.28 240.52 1975.5 235.96 1981.69 231.56 1987.86 227.31 1994 223.22 2000.11 219.29 2006.18 215.53 2012.21 211.93 2018.19 208.51 2024.13 205.25 2030.01 202.16 2035.84 199.26 2041.62 196.52 2047.33 193.97 2052.98 191.59 2058.56 189.39 2064.07 187.38 2069.5 185.54 2074.86 183.9 2080.14 177.8 2108.5 176.8 2122.8 179.2 2139.9 183.5 2154.1 190.6 2165.5 199.9 2175.5 209.9 2183.4 231.3 2192.6 262.6 2196.6 279.7 2197.6 322.5 2192.2 345.3 2186.2 373.8 2178.4 419.55 2162.5" stroke="#00ff00" stroke-width="1.7" fill="none" stroke-linejoin="round" clip-path="url(#c3)"/>
<path d="M268.3 2190.5L744.25 1673.25" stroke="#000" stroke-width="2.0" fill="none" clip-path="url(#c3)"/>
<circle cx="429.5" cy="1907.5" r="12.7" fill="#a8a8a8"/>
<circle cx="981.75" cy="1695.5" r="12.7" fill="#a8a8a8"/>
<circle cx="321.75" cy="1851.75" r="9.3" fill="#666666"/>
<circle cx="339.25" cy="1863.75" r="9.3" fill="#666666"/>
<circle cx="342.5" cy="1869.5" r="9.3" fill="#666666"/>
<circle cx="318.75" cy="1923" r="9.3" fill="#666666"/>
<circle cx="198.25" cy="2010.75" r="9.3" fill="#666666"/>
<circle cx="193.25" cy="2038" r="9.3" fill="#666666"/>
<circle cx="536.75" cy="1761.25" r="9.3" fill="#666666"/>
<circle cx="547" cy="1738.75" r="9.3" fill="#666666"/>
<circle cx="571.25" cy="1715.5" r="9.3" fill="#666666"/>
<circle cx="670" cy="1683.25" r="9.3" fill="#666666"/>
<circle cx="766.75" cy="1693.5" r="9.3" fill="#666666"/>
<circle cx="778.25" cy="1665" r="9.3" fill="#666666"/>
<circle cx="824.25" cy="1773.75" r="9.3" fill="#666666"/>
<circle cx="590.25" cy="1695.75" r="6.4" fill="#000000"/>
<circle cx="744.25" cy="1673.25" r="6.4" fill="#000000"/>
<circle cx="784.25" cy="1657" r="6.4" fill="#000000"/>
<circle cx="811.25" cy="1827.5" r="6.4" fill="#000000"/>
<circle cx="796.25" cy="1851.25" r="6.4" fill="#000000"/>
<path d="M321.75 1851.75L303.75 1903M340 1865L350 1860.5M318.75 1923L303.75 1903M198.25 2010.75L206.75 2026.25M193.25 2038L206.75 2026.25M536.75 1761.25L538.75 1733M547 1738.75L540.5 1733.75M571.25 1715.5L595 1706.25M670 1683.25L712.5 1675M766.75 1693.5L810 1696.75M778.25 1665L757.5 1673.75M824.25 1773.75L827.5 1772M429.5 1907.5L326.25 1882.5M981.75 1695.5L765 1675M590.25 1695.75L618.75 1697.5M744.25 1673.25L784.25 1657M811.25 1827.5L796.25 1851.25" stroke="#ff0000" stroke-width="1.7" fill="none"/>
<path d="M260.3 2190.5h16M268.3 2182.5v16M262.5 2184.7l11.6 11.6M262.5 2196.3l11.6 -11.6" stroke="#0000ff" stroke-width="1.4" fill="none"/>
<text transform="translate(268.5 1712.3) scale(0.984 1)" font-family="'Liberation Sans', sans-serif" font-size="40.3" fill="#000">N</text>
<text transform="translate(134 1943.7) scale(0.927 1)" font-family="'Liberation Sans', sans-serif" font-size="40.3" fill="#000">E</text>
<text transform="translate(268.3 2252) scale(0.95 1)" font-family="'Liberation Sans', sans-serif" font-size="40.3" fill="#000">S</text>
<text transform="translate(890.7 1940) scale(0.9 1)" font-family="'Liberation Sans', sans-serif" font-size="40.3" fill="#000">W</text>
<text transform="translate(438.3 2267.5) scale(0.955 1)" font-family="'Liberation Serif', serif" font-size="40.1" fill="#000" stroke="#000" stroke-width="0.5" text-anchor="start">Bag25Aa,Ab</text>
<path d="M889.3 2215.94 L886.16 2217.44 L883.14 2219.1 L880.28 2220.91 L877.56 2222.86 L875.02 2224.93 L872.66 2227.13 L870.48 2229.45 L868.51 2231.86 L866.74 2234.37 L865.18 2236.96 L863.84 2239.63 L862.73 2242.35 L861.84 2245.13 L861.19 2247.94 L860.78 2250.78 L860.61 2253.63 L860.67 2256.49 L860.97 2259.34 L861.51 2262.17 L862.29 2264.96 L863.29 2267.71 L864.53 2270.4 L865.98 2273.03 L867.66 2275.58 L869.54 2278.04 L871.62 2280.4 L873.9 2282.66 L876.36 2284.79 L878.99 2286.8 L881.79 2288.67 L884.73 2290.4 L887.82 2291.98 L891.03 2293.41 L894.35 2294.67 L897.77 2295.76 L901.28 2296.68 L904.85 2297.42 L908.48 2297.99 L912.15 2298.37 L915.84 2298.57 L919.55 2298.58 L923.24 2298.41 L926.92 2298.06 L930.55 2297.53 L934.14 2296.81 L937.66 2295.92 L941.09 2294.86 L944.43 2293.62 L947.66 2292.23 L950.77 2290.67 L953.74 2288.97 L956.56 2287.12 L959.22 2285.13 L961.71 2283.01 L964.02 2280.78 L966.13 2278.44 L968.05 2275.99 L969.76 2273.46 L971.25 2270.84 L972.52 2268.16 L973.56 2265.42 L974.38 2262.63 L974.95 2259.81 L975.3 2256.96 L975.4 2254.1 L975.26 2251.25 L974.89 2248.41 L974.28 2245.59 L973.43 2242.81 L972.36 2240.07 L971.06 2237.4 L969.54 2234.79 L967.8 2232.27 L965.85 2229.84 L963.71 2227.51 L961.38 2225.29 L958.86 2223.19 L956.18 2221.22 L953.34 2219.39" stroke="#000" stroke-width="2.8" fill="none"/>
<path d="M938.3 2212L958.2 2214.7L951.4 2224.1Z" fill="#000"/>
<path d="M118.25 1608.75H1003.5V2307.5H118.25ZM169.85 2307.5v-9M169.85 1608.75v9M268.25 2307.5v-9M268.25 1608.75v9M366.65 2307.5v-9M366.65 1608.75v9M465.05 2307.5v-9M465.05 1608.75v9M563.45 2307.5v-9M563.45 1608.75v9M661.85 2307.5v-9M661.85 1608.75v9M760.25 2307.5v-9M760.25 1608.75v9M858.65 2307.5v-9M858.65 1608.75v9M957.05 2307.5v-9M957.05 1608.75v9M118.25 2278.05h9M1003.5 2278.05h-9M118.25 2190.6h9M1003.5 2190.6h-9M118.25 2103.15h9M1003.5 2103.15h-9M118.25 2015.7h9M1003.5 2015.7h-9M118.25 1928.25h9M1003.5 1928.25h-9M118.25 1840.8h9M1003.5 1840.8h-9M118.25 1753.35h9M1003.5 1753.35h-9M118.25 1665.9h9M1003.5 1665.9h-9" stroke="#262626" stroke-width="1.3" fill="none" stroke-linecap="butt"/>
<g font-family="'Liberation Sans', sans-serif" font-size="30" fill="#262626" stroke="#262626" stroke-width="0.3">
<text transform="translate(169.85 2348.5) scale(0.905 1)" text-anchor="middle">-0.01</text>
<text transform="translate(268.25 2348.5) scale(0.905 1)" text-anchor="middle">0</text>
<text transform="translate(366.65 2348.5) scale(0.905 1)" text-anchor="middle">0.01</text>
<text transform="translate(465.05 2348.5) scale(0.905 1)" text-anchor="middle">0.02</text>
<text transform="translate(563.45 2348.5) scale(0.905 1)" text-anchor="middle">0.03</text>
<text transform="translate(661.85 2348.5) scale(0.905 1)" text-anchor="middle">0.04</text>
<text transform="translate(760.25 2348.5) scale(0.905 1)" text-anchor="middle">0.05</text>
<text transform="translate(858.65 2348.5) scale(0.905 1)" text-anchor="middle">0.06</text>
<text transform="translate(957.05 2348.5) scale(0.905 1)" text-anchor="middle">0.07</text>
<text transform="translate(106.25 2289.35) scale(0.905 1)" text-anchor="end">-0.02</text>
<text transform="translate(106.25 2201.9) scale(0.905 1)" text-anchor="end">0</text>
<text transform="translate(106.25 2114.45) scale(0.905 1)" text-anchor="end">0.02</text>
<text transform="translate(106.25 2027) scale(0.905 1)" text-anchor="end">0.04</text>
<text transform="translate(106.25 1939.55) scale(0.905 1)" text-anchor="end">0.06</text>
<text transform="translate(106.25 1852.1) scale(0.905 1)" text-anchor="end">0.08</text>
<text transform="translate(106.25 1764.65) scale(0.905 1)" text-anchor="end">0.1</text>
<text transform="translate(106.25 1677.2) scale(0.905 1)" text-anchor="end">0.12</text>
</g>
<g font-family="'Liberation Serif', serif" font-size="38" fill="#262626" stroke="#262626" stroke-width="0.4">
<text x="560.08" y="2391.8" text-anchor="middle">x [arcsec]</text>
<text transform="translate(29 1958.12) rotate(-90)" text-anchor="middle">y [arcsec]</text>
</g>
<rect x="1252.5" y="0.5" width="893.25" height="704.5" fill="#fff"/>
<path d="M1380.1 0.5V705M1507.7 0.5V705M1635.3 0.5V705M1762.9 0.5V705M1890.5 0.5V705M2018.1 0.5V705M1252.5 684.25H2145.75M1252.5 583.62H2145.75M1252.5 483H2145.75M1252.5 382.38H2145.75M1252.5 281.75H2145.75M1252.5 181.12H2145.75M1252.5 80.5H2145.75" stroke="#dedede" stroke-width="1.5" fill="none"/>
<g fill="#0000ff">
<circle cx="1756.52" cy="346.35" r="3.05"/>
<circle cx="1790.33" cy="314.15" r="3.05"/>
<circle cx="1797.99" cy="326.43" r="3.05"/>
<circle cx="1803.73" cy="330.05" r="3.05"/>
<circle cx="1813.3" cy="314.15" r="3.05"/>
<circle cx="1825.42" cy="314.15" r="3.05"/>
<circle cx="1847.12" cy="299.86" r="3.05"/>
<circle cx="1857.32" cy="290" r="3.05"/>
<circle cx="1857.96" cy="302.08" r="3.05"/>
<circle cx="1876.46" cy="283.76" r="3.05"/>
<circle cx="1877.1" cy="291.81" r="3.05"/>
<circle cx="1259.52" cy="279.74" r="3.05"/>
<circle cx="1897.52" cy="279.74" r="3.05"/>
<circle cx="1271.64" cy="285.77" r="3.05"/>
<circle cx="1909.64" cy="285.77" r="3.05"/>
<circle cx="1278.66" cy="268.06" r="3.05"/>
<circle cx="1916.66" cy="268.06" r="3.05"/>
<circle cx="1288.87" cy="247.54" r="3.05"/>
<circle cx="1926.87" cy="247.54" r="3.05"/>
<circle cx="1301.63" cy="245.73" r="3.05"/>
<circle cx="1939.63" cy="245.73" r="3.05"/>
<circle cx="1308.64" cy="227.61" r="3.05"/>
<circle cx="1946.64" cy="227.61" r="3.05"/>
<circle cx="1308.64" cy="233.85" r="3.05"/>
<circle cx="1946.64" cy="233.85" r="3.05"/>
<circle cx="1320.13" cy="207.49" r="3.05"/>
<circle cx="1958.13" cy="207.49" r="3.05"/>
<circle cx="1330.97" cy="197.43" r="3.05"/>
<circle cx="1968.97" cy="197.43" r="3.05"/>
<circle cx="1332.25" cy="185.55" r="3.05"/>
<circle cx="1970.25" cy="185.55" r="3.05"/>
<circle cx="1337.35" cy="175.09" r="3.05"/>
<circle cx="1975.35" cy="175.09" r="3.05"/>
<circle cx="1339.27" cy="172.47" r="3.05"/>
<circle cx="1977.27" cy="172.47" r="3.05"/>
<circle cx="1343.1" cy="161.2" r="3.05"/>
<circle cx="1981.1" cy="161.2" r="3.05"/>
<circle cx="1350.75" cy="145.1" r="3.05"/>
<circle cx="1988.75" cy="145.1" r="3.05"/>
<circle cx="1353.3" cy="124.98" r="3.05"/>
<circle cx="1991.3" cy="124.98" r="3.05"/>
<circle cx="1356.49" cy="126.99" r="3.05"/>
<circle cx="1994.49" cy="126.99" r="3.05"/>
<circle cx="1369.38" cy="52.53" r="3.05"/>
<circle cx="2007.38" cy="52.53" r="3.05"/>
<circle cx="1369.38" cy="61.18" r="3.05"/>
<circle cx="2007.38" cy="61.18" r="3.05"/>
<circle cx="1372.57" cy="48.7" r="3.05"/>
<circle cx="2010.57" cy="48.7" r="3.05"/>
<circle cx="1372.57" cy="53.73" r="3.05"/>
<circle cx="2010.57" cy="53.73" r="3.05"/>
<circle cx="1375.12" cy="56.35" r="3.05"/>
<circle cx="2013.12" cy="56.35" r="3.05"/>
<circle cx="1375.12" cy="64.4" r="3.05"/>
<circle cx="2013.12" cy="64.4" r="3.05"/>
<circle cx="1377.1" cy="82.51" r="3.05"/>
<circle cx="2015.1" cy="82.51" r="3.05"/>
<circle cx="1378.82" cy="135.04" r="3.05"/>
<circle cx="2016.82" cy="135.04" r="3.05"/>
<circle cx="1379.33" cy="165.03" r="3.05"/>
<circle cx="2017.33" cy="165.03" r="3.05"/>
<circle cx="1379.84" cy="181.33" r="3.05"/>
<circle cx="2017.84" cy="181.33" r="3.05"/>
<circle cx="1380.87" cy="223.39" r="3.05"/>
<circle cx="2018.87" cy="223.39" r="3.05"/>
<circle cx="1381.38" cy="249.55" r="3.05"/>
<circle cx="2019.38" cy="249.55" r="3.05"/>
<circle cx="1381.82" cy="267.66" r="3.05"/>
<circle cx="2019.82" cy="267.66" r="3.05"/>
<circle cx="1382.59" cy="309.92" r="3.05"/>
<circle cx="2020.59" cy="309.92" r="3.05"/>
<circle cx="1383.61" cy="342.12" r="3.05"/>
<circle cx="2021.61" cy="342.12" r="3.05"/>
<circle cx="1388.07" cy="443.15" r="3.05"/>
<circle cx="2026.07" cy="443.15" r="3.05"/>
<circle cx="1393.88" cy="501.31" r="3.05"/>
<circle cx="2031.88" cy="501.31" r="3.05"/>
<circle cx="1397.07" cy="515.6" r="3.05"/>
<circle cx="2035.07" cy="515.6" r="3.05"/>
<circle cx="1398.6" cy="499.3" r="3.05"/>
<circle cx="2036.6" cy="499.3" r="3.05"/>
<circle cx="1403.07" cy="499.3" r="3.05"/>
<circle cx="2041.07" cy="499.3" r="3.05"/>
<circle cx="1403.07" cy="503.33" r="3.05"/>
<circle cx="2041.07" cy="503.33" r="3.05"/>
<circle cx="1407.53" cy="503.33" r="3.05"/>
<circle cx="2045.53" cy="503.33" r="3.05"/>
<circle cx="1417.1" cy="507.55" r="3.05"/>
<circle cx="2055.1" cy="507.55" r="3.05"/>
<circle cx="1420.93" cy="503.33" r="3.05"/>
<circle cx="2058.93" cy="503.33" r="3.05"/>
<circle cx="1427.63" cy="489.24" r="3.05"/>
<circle cx="2065.63" cy="489.24" r="3.05"/>
<circle cx="1429.86" cy="479.38" r="3.05"/>
<circle cx="2067.86" cy="479.38" r="3.05"/>
<circle cx="1433.05" cy="495.08" r="3.05"/>
<circle cx="2071.05" cy="495.08" r="3.05"/>
<circle cx="1435.61" cy="495.08" r="3.05"/>
<circle cx="2073.61" cy="495.08" r="3.05"/>
<circle cx="1433.69" cy="497.09" r="3.05"/>
<circle cx="2071.69" cy="497.09" r="3.05"/>
<circle cx="1435.61" cy="485.42" r="3.05"/>
<circle cx="2073.61" cy="485.42" r="3.05"/>
<circle cx="1450.28" cy="481.39" r="3.05"/>
<circle cx="2088.28" cy="481.39" r="3.05"/>
<circle cx="1452.83" cy="491.05" r="3.05"/>
<circle cx="2090.83" cy="491.05" r="3.05"/>
<circle cx="1456.66" cy="468.91" r="3.05"/>
<circle cx="2094.66" cy="468.91" r="3.05"/>
<circle cx="1459.85" cy="465.09" r="3.05"/>
<circle cx="2097.85" cy="465.09" r="3.05"/>
<circle cx="1459.85" cy="473.14" r="3.05"/>
<circle cx="2097.85" cy="473.14" r="3.05"/>
<circle cx="1459.85" cy="479.18" r="3.05"/>
<circle cx="2097.85" cy="479.18" r="3.05"/>
<circle cx="1461.76" cy="467.1" r="3.05"/>
<circle cx="2099.76" cy="467.1" r="3.05"/>
<circle cx="1463.68" cy="461.27" r="3.05"/>
<circle cx="2101.68" cy="461.27" r="3.05"/>
<circle cx="1485.37" cy="461.27" r="3.05"/>
<circle cx="2123.37" cy="461.27" r="3.05"/>
<circle cx="1489.84" cy="451.4" r="3.05"/>
<circle cx="2127.84" cy="451.4" r="3.05"/>
<circle cx="1493.03" cy="451.4" r="3.05"/>
<circle cx="2131.03" cy="451.4" r="3.05"/>
<circle cx="1512.8" cy="451.4" r="3.05"/>
<circle cx="1519.5" cy="435.1" r="3.05"/>
<circle cx="1523.01" cy="439.33" r="3.05"/>
<circle cx="1547.89" cy="431.08" r="3.05"/>
<circle cx="1554.91" cy="421.02" r="3.05"/>
<circle cx="1566.01" cy="404.92" r="3.05"/>
<circle cx="1607.48" cy="400.89" r="3.05"/>
<circle cx="1699.99" cy="376.74" r="3.05"/>
</g>
<g fill="#ff0000">
<circle cx="1755.63" cy="366.68" r="3.05"/>
<circle cx="1797.99" cy="384.59" r="3.05"/>
<circle cx="1803.73" cy="382.58" r="3.05"/>
<circle cx="1813.3" cy="398.48" r="3.05"/>
<circle cx="1825.42" cy="380.77" r="3.05"/>
<circle cx="1847.12" cy="410.75" r="3.05"/>
<circle cx="1857.32" cy="418.8" r="3.05"/>
<circle cx="1857.96" cy="402.9" r="3.05"/>
<circle cx="1876.46" cy="418.8" r="3.05"/>
<circle cx="1877.1" cy="410.75" r="3.05"/>
<circle cx="1259.52" cy="424.84" r="3.05"/>
<circle cx="1897.52" cy="424.84" r="3.05"/>
<circle cx="1271.64" cy="424.84" r="3.05"/>
<circle cx="1909.64" cy="424.84" r="3.05"/>
<circle cx="1278.66" cy="430.88" r="3.05"/>
<circle cx="1916.66" cy="430.88" r="3.05"/>
<circle cx="1288.87" cy="457.44" r="3.05"/>
<circle cx="1926.87" cy="457.44" r="3.05"/>
<circle cx="1301.63" cy="479.18" r="3.05"/>
<circle cx="1939.63" cy="479.18" r="3.05"/>
<circle cx="1308.64" cy="479.18" r="3.05"/>
<circle cx="1946.64" cy="479.18" r="3.05"/>
<circle cx="1308.64" cy="497.49" r="3.05"/>
<circle cx="1946.64" cy="497.49" r="3.05"/>
<circle cx="1320.13" cy="495.28" r="3.05"/>
<circle cx="1958.13" cy="495.28" r="3.05"/>
<circle cx="1332.25" cy="507.55" r="3.05"/>
<circle cx="1970.25" cy="507.55" r="3.05"/>
<circle cx="1330.97" cy="525.46" r="3.05"/>
<circle cx="1968.97" cy="525.46" r="3.05"/>
<circle cx="1339.27" cy="523.25" r="3.05"/>
<circle cx="1977.27" cy="523.25" r="3.05"/>
<circle cx="1337.35" cy="527.48" r="3.05"/>
<circle cx="1975.35" cy="527.48" r="3.05"/>
<circle cx="1343.1" cy="549.41" r="3.05"/>
<circle cx="1981.1" cy="549.41" r="3.05"/>
<circle cx="1356.49" cy="571.75" r="3.05"/>
<circle cx="1994.49" cy="571.75" r="3.05"/>
<circle cx="1350.75" cy="583.83" r="3.05"/>
<circle cx="1988.75" cy="583.83" r="3.05"/>
<circle cx="1353.3" cy="583.83" r="3.05"/>
<circle cx="1991.3" cy="583.83" r="3.05"/>
<circle cx="1355.86" cy="604.15" r="3.05"/>
<circle cx="1993.86" cy="604.15" r="3.05"/>
<circle cx="1369.25" cy="678.21" r="3.05"/>
<circle cx="2007.25" cy="678.21" r="3.05"/>
<circle cx="1372.44" cy="674.99" r="3.05"/>
<circle cx="2010.44" cy="674.99" r="3.05"/>
<circle cx="1372.44" cy="684.25" r="3.05"/>
<circle cx="2010.44" cy="684.25" r="3.05"/>
<circle cx="1373.08" cy="684.25" r="3.05"/>
<circle cx="2011.08" cy="684.25" r="3.05"/>
<circle cx="1375" cy="668.75" r="3.05"/>
<circle cx="2013" cy="668.75" r="3.05"/>
<circle cx="1377.1" cy="638.77" r="3.05"/>
<circle cx="2015.1" cy="638.77" r="3.05"/>
<circle cx="1378.38" cy="590.07" r="3.05"/>
<circle cx="2016.38" cy="590.07" r="3.05"/>
<circle cx="1379.33" cy="551.83" r="3.05"/>
<circle cx="2017.33" cy="551.83" r="3.05"/>
<circle cx="1379.84" cy="529.49" r="3.05"/>
<circle cx="2017.84" cy="529.49" r="3.05"/>
<circle cx="1380.61" cy="487.43" r="3.05"/>
<circle cx="2018.61" cy="487.43" r="3.05"/>
<circle cx="1381.38" cy="444.96" r="3.05"/>
<circle cx="2019.38" cy="444.96" r="3.05"/>
<circle cx="1381.57" cy="437.12" r="3.05"/>
<circle cx="2019.57" cy="437.12" r="3.05"/>
<circle cx="1382.01" cy="374.33" r="3.05"/>
<circle cx="2020.01" cy="374.33" r="3.05"/>
<circle cx="1381.82" cy="352.19" r="3.05"/>
<circle cx="2019.82" cy="352.19" r="3.05"/>
<circle cx="1387.63" cy="229.42" r="3.05"/>
<circle cx="2025.63" cy="229.42" r="3.05"/>
<circle cx="1393.88" cy="199.24" r="3.05"/>
<circle cx="2031.88" cy="199.24" r="3.05"/>
<circle cx="1397.07" cy="180.72" r="3.05"/>
<circle cx="2035.07" cy="180.72" r="3.05"/>
<circle cx="1398.35" cy="171.06" r="3.05"/>
<circle cx="2036.35" cy="171.06" r="3.05"/>
<circle cx="1403.07" cy="161.2" r="3.05"/>
<circle cx="2041.07" cy="161.2" r="3.05"/>
<circle cx="1403.07" cy="167.04" r="3.05"/>
<circle cx="2041.07" cy="167.04" r="3.05"/>
<circle cx="1407.53" cy="175.09" r="3.05"/>
<circle cx="2045.53" cy="175.09" r="3.05"/>
<circle cx="1417.1" cy="195.21" r="3.05"/>
<circle cx="2055.1" cy="195.21" r="3.05"/>
<circle cx="1420.93" cy="189.17" r="3.05"/>
<circle cx="2058.93" cy="189.17" r="3.05"/>
<circle cx="1427.63" cy="187.16" r="3.05"/>
<circle cx="2065.63" cy="187.16" r="3.05"/>
<circle cx="1429.86" cy="187.16" r="3.05"/>
<circle cx="2067.86" cy="187.16" r="3.05"/>
<circle cx="1435.61" cy="181.12" r="3.05"/>
<circle cx="2073.61" cy="181.12" r="3.05"/>
<circle cx="1433.05" cy="201.25" r="3.05"/>
<circle cx="2071.05" cy="201.25" r="3.05"/>
<circle cx="1435.61" cy="205.28" r="3.05"/>
<circle cx="2073.61" cy="205.28" r="3.05"/>
<circle cx="1433.69" cy="213.33" r="3.05"/>
<circle cx="2071.69" cy="213.33" r="3.05"/>
<circle cx="1435.61" cy="213.33" r="3.05"/>
<circle cx="2073.61" cy="213.33" r="3.05"/>
<circle cx="1450.28" cy="193.2" r="3.05"/>
<circle cx="2088.28" cy="193.2" r="3.05"/>
<circle cx="1450.28" cy="213.33" r="3.05"/>
<circle cx="2088.28" cy="213.33" r="3.05"/>
<circle cx="1452.83" cy="225.6" r="3.05"/>
<circle cx="2090.83" cy="225.6" r="3.05"/>
<circle cx="1459.85" cy="227.61" r="3.05"/>
<circle cx="2097.85" cy="227.61" r="3.05"/>
<circle cx="1461.76" cy="227.61" r="3.05"/>
<circle cx="2099.76" cy="227.61" r="3.05"/>
<circle cx="1456.66" cy="235.46" r="3.05"/>
<circle cx="2094.66" cy="235.46" r="3.05"/>
<circle cx="1459.85" cy="239.49" r="3.05"/>
<circle cx="2097.85" cy="239.49" r="3.05"/>
<circle cx="1463.68" cy="255.59" r="3.05"/>
<circle cx="2101.68" cy="255.59" r="3.05"/>
<circle cx="1485.37" cy="255.59" r="3.05"/>
<circle cx="2123.37" cy="255.59" r="3.05"/>
<circle cx="1489.84" cy="249.55" r="3.05"/>
<circle cx="2127.84" cy="249.55" r="3.05"/>
<circle cx="1493.03" cy="241.5" r="3.05"/>
<circle cx="2131.03" cy="241.5" r="3.05"/>
<circle cx="1512.8" cy="261.83" r="3.05"/>
<circle cx="1519.5" cy="265.85" r="3.05"/>
<circle cx="1523.01" cy="255.59" r="3.05"/>
<circle cx="1547.89" cy="265.65" r="3.05"/>
<circle cx="1554.91" cy="273.7" r="3.05"/>
<circle cx="1566.01" cy="275.71" r="3.05"/>
<circle cx="1567.48" cy="294.03" r="3.05"/>
<circle cx="1567.48" cy="426.85" r="3.05"/>
<circle cx="1607.48" cy="290" r="3.05"/>
<circle cx="1668.73" cy="315.96" r="3.05"/>
<circle cx="1699.99" cy="312.14" r="3.05"/>
</g>
<path d="M1252.5 282.77 1259.53 277.89 1266.15 273 1272.58 267.96 1277.26 264.08 1283.33 258.75 1287.74 254.64 1293.43 248.99 1297.56 244.63 1302.88 238.63 1306.72 233.98 1311.67 227.58 1315.23 222.62 1319.8 215.78 1323.09 210.47 1327.29 203.16 1330.3 197.48 1333.19 191.64 1335.97 185.63 1338.64 179.44 1341.19 173.07 1343.64 166.53 1345.97 159.81 1348.21 152.92 1350.33 145.86 1352.36 138.66 1354.91 128.84 1356.71 121.35 1358.96 111.25 1362.06 96.1 1367.68 66.09 1369.49 57.27 1370.5 53.28 1371.45 50.58 1372.06 49.63 1372.36 49.43 1372.65 49.45 1372.93 49.68 1373.48 50.84 1373.76 51.79 1374.28 54.49 1374.79 58.33 1375.29 63.37 1376.24 77.36 1377.36 102.51 1378.23 128.69 1379.07 159.69 1382.43 307.4 1384.03 367.55 1385 397.29 1385.78 417.02 1386.87 439.81 1387.74 454.34 1388.97 470.49 1390.3 483.29 1391.01 488.56 1391.74 493.15 1392.5 497.11 1393.3 500.49 1394.12 503.33 1394.97 505.68 1395.86 507.59 1397.26 509.71 1398.23 510.67 1398.73 511.04 1399.77 511.54 1400.29 511.69 1401.38 511.8 1403.09 511.54 1404.28 511.11 1406.14 510.15 1408.1 508.86 1410.16 507.29 1414.59 503.47 1429.5 489.8 1437.79 482.67 1443.4 478.13 1448.13 474.48 1454.34 469.92 1459.55 466.28 1466.37 461.76 1472.06 458.17 1477.97 454.61 1484.08 451.08 1490.4 447.57 1498.59 443.24 1505.37 439.81 1514.12 435.56 1528.72 428.86 1546 421.45 1564.11 414.16 1585.1 406.18 1604.67 399.06 1624.78 391.98 1647.61 384.13 1705.93 364.3 1738.62 352.87 1757.08 346.17 1773.02 340.18 1788.7 334.04 1801.89 328.65 1819.08 321.25 1833.68 314.55 1847.84 307.6 1859.58 301.43 1867.2 297.19 1872.79 293.94 1883.68 287.25 1888.96 283.8 1894.14 280.28 1899.2 276.68 1904.15 273 1910.58 267.96 1915.26 264.08 1921.33 258.75 1925.74 254.64 1931.43 248.99 1935.56 244.63 1939.57 240.15 1943.46 235.54 1948.45 229.2 1952.06 224.29 1955.54 219.23 1958.91 214.03 1962.16 208.67 1965.29 203.16 1968.3 197.48 1971.19 191.64 1975.76 181.52 1978.35 175.21 1980.84 168.73 1983.21 162.07 1985.47 155.23 1987.63 148.23 1989.69 141.08 1991.65 133.78 1993.52 126.35 1995.28 118.83 1997.5 108.72 2000.06 96.1 2005.68 66.09 2007.49 57.27 2008.5 53.28 2009.14 51.32 2009.76 50.01 2010.06 49.63 2010.36 49.43 2010.65 49.45 2010.93 49.68 2011.21 50.14 2011.48 50.84 2012.02 53.01 2012.79 58.33 2013.29 63.37 2014.01 73.36 2014.47 81.7 2015.58 108.56 2016.44 136.02 2017.28 168.09 2020.21 298.17 2021.33 342.89 2022.75 390.21 2023.51 410.69 2024.31 428.91 2025.15 444.89 2026.04 458.71 2026.97 470.49 2027.96 480.38 2029.01 488.56 2030.12 495.21 2031.3 500.49 2032.54 504.56 2033.41 506.69 2034.78 509.1 2035.74 510.23 2036.23 510.67 2037.25 511.32 2037.77 511.54 2038.83 511.78 2040.51 511.68 2042.28 511.11 2044.14 510.15 2046.78 508.36 2050.32 505.48 2066.52 490.67 2075.79 482.67 2084.93 475.39 2093.62 469.01 2100.24 464.47 2105.77 460.86 2111.52 457.28 2117.48 453.72 2123.64 450.2 2131.64 445.83 2138.27 442.38 2145.7 438.66" stroke="#0000ff" stroke-width="1.7" fill="none" stroke-linejoin="round" clip-path="url(#c4)"/>
<path d="M1252.5 427.05 1259.65 432.35 1266.29 437.59 1272.72 442.98 1277.41 447.15 1283.48 452.86 1287.9 457.27 1293.59 463.32 1297.73 468.01 1303.05 474.46 1306.89 479.45 1311.84 486.34 1315.4 491.67 1319.96 499.03 1323.25 504.75 1327.44 512.64 1330.44 518.76 1333.33 525.08 1336.1 531.58 1338.76 538.28 1341.3 545.18 1343.74 552.28 1346.06 559.58 1348.28 567.08 1351.08 577.38 1353.05 585.3 1355.54 596.12 1357.29 604.38 1359.49 615.53 1362.49 632.27 1367.92 665.44 1369.66 675.09 1370.63 679.37 1371.54 682.17 1372.12 683.06 1372.41 683.17 1372.68 683.04 1372.96 682.66 1373.49 681.08 1373.74 679.87 1374.25 676.5 1374.73 671.82 1375.21 665.74 1376.11 649.07 1377.18 619.46 1378.61 562.51 1381.63 407.67 1383.15 339.6 1384.09 305.87 1384.82 283.5 1385.86 257.69 1386.69 241.29 1387.88 223.11 1389.16 208.77 1389.83 202.9 1390.54 197.8 1391.27 193.42 1392.03 189.71 1392.83 186.6 1393.65 184.04 1394.51 181.98 1394.95 181.12 1395.86 179.73 1396.81 178.73 1397.29 178.36 1398.29 177.88 1398.81 177.75 1399.87 177.7 1401.53 178.09 1402.68 178.63 1404.5 179.79 1406.41 181.32 1408.42 183.14 1412 186.72 1426.44 201.89 1431.38 206.8 1436.65 211.79 1441.11 215.81 1445.78 219.83 1450.67 223.85 1455.77 227.85 1462.46 232.81 1468.05 236.75 1475.34 241.62 1481.41 245.47 1487.69 249.29 1495.83 254.01 1502.57 257.74 1511.27 262.35 1518.45 265.99 1527.69 270.5 1535.28 274.08 1545.01 278.5 1563.17 286.35 1584.23 294.95 1603.86 302.6 1626.3 311.05 1707.82 340.74 1740.6 353 1759.1 360.19 1775.05 366.62 1790.74 373.21 1803.94 379 1821.12 386.95 1835.7 394.16 1849.83 401.63 1861.54 408.28 1869.13 412.84 1874.71 416.34 1885.55 423.55 1890.81 427.27 1895.96 431.07 1900.99 434.95 1905.91 438.92 1912.3 444.36 1916.95 448.56 1922.97 454.31 1927.34 458.76 1932.98 464.87 1937.08 469.6 1941.05 474.46 1944.89 479.45 1949.84 486.34 1953.4 491.67 1956.84 497.17 1960.17 502.83 1963.37 508.65 1966.45 514.66 1969.42 520.85 1972.27 527.22 1976.76 538.28 1979.3 545.18 1981.74 552.28 1984.06 559.58 1986.28 567.08 1988.39 574.77 1990.41 582.64 1992.32 590.68 1994.13 598.86 1995.86 607.16 1998.01 618.33 2000.49 632.27 2005.92 665.44 2007.66 675.09 2008.63 679.37 2009.25 681.42 2009.84 682.72 2010.12 683.06 2010.41 683.17 2010.68 683.04 2010.96 682.66 2011.22 682.01 2011.74 679.87 2012.49 674.33 2012.97 668.96 2013.89 653.82 2014.97 626.16 2015.8 597.1 2016.61 562.51 2019.63 407.67 2020.71 358.01 2022.09 305.87 2022.82 283.5 2023.6 263.72 2024.98 236.36 2025.88 223.11 2026.83 212.02 2027.83 202.9 2028.9 195.53 2030.03 189.71 2031.24 185.25 2032.08 182.95 2033.4 180.37 2034.33 179.18 2034.81 178.73 2035.79 178.08 2036.81 177.75 2037.33 177.69 2038.41 177.77 2040.1 178.34 2041.88 179.36 2044.41 181.32 2047.82 184.5 2063.49 200.93 2068.37 205.81 2072.5 209.79 2076.85 213.8 2081.42 217.82 2086.2 221.84 2091.19 225.85 2097.74 230.83 2103.23 234.78 2110.38 239.68 2116.35 243.55 2122.52 247.39 2130.53 252.13 2137.17 255.88 2145.7 260.48" stroke="#ff0000" stroke-width="1.7" fill="none" stroke-linejoin="round" clip-path="url(#c4)"/>
<path d="M1252.5 352.19H2145.7" stroke="#000" stroke-width="2.1" stroke-dasharray="13.7 8.2" fill="none"/>
<rect x="1484" y="29.3" width="425.5" height="158.7" fill="#fff" stroke="#262626" stroke-width="1.4"/>
<circle cx="1533.6" cy="51.7" r="3.05" fill="#0000ff"/>
<circle cx="1533.6" cy="89.5" r="3.05" fill="#ff0000"/>
<path d="M1492.3 127.3H1574.3" stroke="#0000ff" stroke-width="1.4"/>
<path d="M1492.3 165.1H1574.3" stroke="#ff0000" stroke-width="1.4"/>
<g font-family="'Liberation Serif', serif" font-size="33" fill="#000" stroke="#000" stroke-width="0.4">
<text x="1580.3" y="64.3">Primary RV (data)</text>
<text x="1580.3" y="102.1">Companion RV (data)</text>
<text x="1580.3" y="139.9">Primary RV (model)</text>
<text x="1580.3" y="177.7">Companion RV (model)</text>
</g>
<text transform="translate(1655.5 667.5) scale(0.934 1)" font-family="'Liberation Serif', serif" font-size="40.1" fill="#000" stroke="#000" stroke-width="0.5" text-anchor="start">A2801</text>
<path d="M1252.5 0.5H2145.75V705H1252.5ZM1380.1 705v-9M1380.1 0.5v9M1507.7 705v-9M1507.7 0.5v9M1635.3 705v-9M1635.3 0.5v9M1762.9 705v-9M1762.9 0.5v9M1890.5 705v-9M1890.5 0.5v9M2018.1 705v-9M2018.1 0.5v9M1252.5 684.25h9M2145.75 684.25h-9M1252.5 583.62h9M2145.75 583.62h-9M1252.5 483h9M2145.75 483h-9M1252.5 382.38h9M2145.75 382.38h-9M1252.5 281.75h9M2145.75 281.75h-9M1252.5 181.12h9M2145.75 181.12h-9M1252.5 80.5h9M2145.75 80.5h-9" stroke="#262626" stroke-width="1.3" fill="none" stroke-linecap="butt"/>
<g font-family="'Liberation Sans', sans-serif" font-size="30" fill="#262626" stroke="#262626" stroke-width="0.3">
<text transform="translate(1252.5 746) scale(0.905 1)" text-anchor="middle">-0.2</text>
<text transform="translate(1380.1 746) scale(0.905 1)" text-anchor="middle">0</text>
<text transform="translate(1507.7 746) scale(0.905 1)" text-anchor="middle">0.2</text>
<text transform="translate(1635.3 746) scale(0.905 1)" text-anchor="middle">0.4</text>
<text transform="translate(1762.9 746) scale(0.905 1)" text-anchor="middle">0.6</text>
<text transform="translate(1890.5 746) scale(0.905 1)" text-anchor="middle">0.8</text>
<text transform="translate(2018.1 746) scale(0.905 1)" text-anchor="middle">1</text>
<text transform="translate(2145.7 746) scale(0.905 1)" text-anchor="middle">1.2</text>
<text transform="translate(1240 695.55) scale(0.905 1)" text-anchor="end">10</text>
<text transform="translate(1240 594.92) scale(0.905 1)" text-anchor="end">15</text>
<text transform="translate(1240 494.3) scale(0.905 1)" text-anchor="end">20</text>
<text transform="translate(1240 393.68) scale(0.905 1)" text-anchor="end">25</text>
<text transform="translate(1240 293.05) scale(0.905 1)" text-anchor="end">30</text>
<text transform="translate(1240 192.43) scale(0.905 1)" text-anchor="end">35</text>
<text transform="translate(1240 91.8) scale(0.905 1)" text-anchor="end">40</text>
</g>
<g font-family="'Liberation Serif', serif" font-size="38" fill="#262626" stroke="#262626" stroke-width="0.4">
<text x="1698.33" y="788.6" text-anchor="middle">Phase</text>
<text transform="translate(1193.5 352.75) rotate(-90)" text-anchor="middle">RV [km/s]</text>
</g>
<rect x="1269.25" y="812.75" width="883.5" height="697.25" fill="#fff"/>
<path d="M1395.5 812.75V1510M1521.7 812.75V1510M1647.9 812.75V1510M1774.1 812.75V1510M1900.3 812.75V1510M2026.5 812.75V1510M1269.25 1370.5H2152.75M1269.25 1231H2152.75M1269.25 1091.5H2152.75M1269.25 952H2152.75" stroke="#dedede" stroke-width="1.5" fill="none"/>
<g fill="#0000ff">
<circle cx="1598.3" cy="1152.88" r="3.02"/>
<circle cx="1608.78" cy="1144.23" r="3.02"/>
<circle cx="1613.57" cy="1152.88" r="3.02"/>
<circle cx="1657.11" cy="1105.17" r="3.02"/>
<circle cx="1664.62" cy="1094.29" r="3.02"/>
<circle cx="1673.9" cy="1107.96" r="3.02"/>
<circle cx="1716.68" cy="1082.57" r="3.02"/>
<circle cx="1724.69" cy="1088.43" r="3.02"/>
<circle cx="1735.61" cy="1091.5" r="3.02"/>
<circle cx="1743.18" cy="1077.55" r="3.02"/>
<circle cx="1772.84" cy="1066.11" r="3.02"/>
<circle cx="1785.21" cy="1080.34" r="3.02"/>
<circle cx="1793.47" cy="1080.34" r="3.02"/>
<circle cx="1800.22" cy="1080.34" r="3.02"/>
<circle cx="1789.69" cy="1091.5" r="3.02"/>
<circle cx="1850.45" cy="1094.29" r="3.02"/>
<circle cx="1862.76" cy="1094.29" r="3.02"/>
<circle cx="1276.56" cy="1152.88" r="3.02"/>
<circle cx="1907.56" cy="1152.88" r="3.02"/>
<circle cx="1349.25" cy="1231" r="3.02"/>
<circle cx="1980.25" cy="1231" r="3.02"/>
<circle cx="1339.72" cy="1264.48" r="3.02"/>
<circle cx="1970.72" cy="1264.48" r="3.02"/>
<circle cx="1355.62" cy="1300.75" r="3.02"/>
<circle cx="1986.62" cy="1300.75" r="3.02"/>
<circle cx="1397.39" cy="1454.2" r="3.02"/>
<circle cx="2028.39" cy="1454.2" r="3.02"/>
<circle cx="1403.14" cy="1465.64" r="3.02"/>
<circle cx="2034.14" cy="1465.64" r="3.02"/>
<circle cx="1407.43" cy="1457.55" r="3.02"/>
<circle cx="2038.43" cy="1457.55" r="3.02"/>
<circle cx="1416.95" cy="1434.67" r="3.02"/>
<circle cx="2047.95" cy="1434.67" r="3.02"/>
<circle cx="1421.18" cy="1426.3" r="3.02"/>
<circle cx="2052.18" cy="1426.3" r="3.02"/>
<circle cx="1425.41" cy="1417.93" r="3.02"/>
<circle cx="2056.41" cy="1417.93" r="3.02"/>
<circle cx="1456.71" cy="1328.65" r="3.02"/>
<circle cx="2087.71" cy="1328.65" r="3.02"/>
<circle cx="1460.49" cy="1311.91" r="3.02"/>
<circle cx="2091.49" cy="1311.91" r="3.02"/>
<circle cx="1464.91" cy="1314.7" r="3.02"/>
<circle cx="2095.91" cy="1314.7" r="3.02"/>
<circle cx="1468.19" cy="1303.54" r="3.02"/>
<circle cx="2099.19" cy="1303.54" r="3.02"/>
<circle cx="1474.19" cy="1292.38" r="3.02"/>
<circle cx="2105.19" cy="1292.38" r="3.02"/>
<circle cx="1479.74" cy="1267.27" r="3.02"/>
<circle cx="2110.74" cy="1267.27" r="3.02"/>
<circle cx="1485.99" cy="1247.74" r="3.02"/>
<circle cx="2116.99" cy="1247.74" r="3.02"/>
</g>
<g fill="#ff0000">
<circle cx="1598.3" cy="1203.1" r="3.02"/>
<circle cx="1608.78" cy="1211.47" r="3.02"/>
<circle cx="1613.57" cy="1214.26" r="3.02"/>
<circle cx="1657.11" cy="1278.43" r="3.02"/>
<circle cx="1664.62" cy="1278.43" r="3.02"/>
<circle cx="1673.9" cy="1258.9" r="3.02"/>
<circle cx="1716.68" cy="1278.43" r="3.02"/>
<circle cx="1724.69" cy="1267.55" r="3.02"/>
<circle cx="1735.61" cy="1281.22" r="3.02"/>
<circle cx="1743.18" cy="1270.06" r="3.02"/>
<circle cx="1772.84" cy="1284.01" r="3.02"/>
<circle cx="1785.21" cy="1292.38" r="3.02"/>
<circle cx="1789.69" cy="1281.22" r="3.02"/>
<circle cx="1793.47" cy="1286.8" r="3.02"/>
<circle cx="1800.22" cy="1292.38" r="3.02"/>
<circle cx="1850.45" cy="1264.48" r="3.02"/>
<circle cx="1862.76" cy="1261.69" r="3.02"/>
<circle cx="1276.56" cy="1211.47" r="3.02"/>
<circle cx="1907.56" cy="1211.47" r="3.02"/>
<circle cx="1397.52" cy="904.29" r="3.02"/>
<circle cx="2028.52" cy="904.29" r="3.02"/>
<circle cx="1407.49" cy="901.5" r="3.02"/>
<circle cx="2038.49" cy="901.5" r="3.02"/>
<circle cx="1417.02" cy="910.15" r="3.02"/>
<circle cx="2048.02" cy="910.15" r="3.02"/>
<circle cx="1403.26" cy="920.75" r="3.02"/>
<circle cx="2034.26" cy="920.75" r="3.02"/>
<circle cx="1421.24" cy="929.68" r="3.02"/>
<circle cx="2052.24" cy="929.68" r="3.02"/>
<circle cx="1425.47" cy="940.56" r="3.02"/>
<circle cx="2056.47" cy="940.56" r="3.02"/>
<circle cx="1456.71" cy="1032.63" r="3.02"/>
<circle cx="2087.71" cy="1032.63" r="3.02"/>
<circle cx="1464.91" cy="1060.81" r="3.02"/>
<circle cx="2095.91" cy="1060.81" r="3.02"/>
<circle cx="1468.25" cy="1066.11" r="3.02"/>
<circle cx="2099.25" cy="1066.11" r="3.02"/>
<circle cx="1460.49" cy="1071.97" r="3.02"/>
<circle cx="2091.49" cy="1071.97" r="3.02"/>
<circle cx="1479.74" cy="1091.5" r="3.02"/>
<circle cx="2110.74" cy="1091.5" r="3.02"/>
<circle cx="1474.25" cy="1097.08" r="3.02"/>
<circle cx="2105.25" cy="1097.08" r="3.02"/>
<circle cx="1485.99" cy="1130.56" r="3.02"/>
<circle cx="2116.99" cy="1130.56" r="3.02"/>
<circle cx="1355.75" cy="1091.5" r="3.02"/>
<circle cx="1986.75" cy="1091.5" r="3.02"/>
<circle cx="1339.72" cy="1102.38" r="3.02"/>
<circle cx="1970.72" cy="1102.38" r="3.02"/>
<circle cx="1349.25" cy="1152.88" r="3.02"/>
<circle cx="1980.25" cy="1152.88" r="3.02"/>
</g>
<path d="M1269.3 1118.16 1274.19 1122.04 1278.18 1125.49 1283.39 1130.41 1287.21 1134.35 1292.19 1139.95 1295.85 1144.42 1299.43 1149.13 1302.94 1154.08 1307.52 1161.07 1310.87 1166.62 1314.15 1172.43 1317.36 1178.51 1320.5 1184.86 1323.57 1191.49 1326.58 1198.4 1329.53 1205.58 1332.41 1213.05 1335.23 1220.79 1337.99 1228.8 1340.69 1237.07 1343.33 1245.6 1345.91 1254.38 1348.44 1263.38 1351.74 1275.71 1356.51 1294.79 1361.09 1314.37 1365.51 1334.17 1375.27 1379.15 1379.26 1396.87 1383.17 1413 1385.09 1420.32 1387.01 1427.07 1389.54 1435.11 1391.44 1440.37 1393.33 1444.91 1395.21 1448.72 1396.47 1450.83 1397.73 1452.6 1398.99 1454.03 1399.63 1454.61 1400.26 1455.11 1401.53 1455.84 1402.16 1456.08 1403.44 1456.29 1404.72 1456.16 1405.36 1455.97 1406.65 1455.34 1407.3 1454.91 1408.6 1453.79 1410.57 1451.53 1412.56 1448.6 1414.58 1445.04 1416.62 1440.88 1419.39 1434.5 1422.94 1425.33 1427.33 1412.86 1444.97 1359.08 1449.37 1346.14 1453.94 1333.23 1458.67 1320.45 1463.58 1307.89 1468.67 1295.59 1473.95 1283.63 1479.41 1272.03 1483.92 1263.04 1488.56 1254.3 1493.32 1245.84 1498.21 1237.64 1503.23 1229.72 1508.37 1222.07 1514.98 1212.89 1521.78 1204.13 1528.78 1195.77 1535.98 1187.81 1540.38 1183.22 1544.86 1178.77 1552.46 1171.64 1557.11 1167.54 1561.82 1163.57 1569.81 1157.22 1574.68 1153.57 1579.61 1150.04 1587.95 1144.41 1598.16 1138.05 1608.57 1132.12 1619.15 1126.6 1629.9 1121.47 1640.8 1116.72 1651.83 1112.33 1657.39 1110.27 1664.83 1107.67 1674.19 1104.63 1683.6 1101.82 1693.04 1099.25 1702.51 1096.92 1711.98 1094.81 1721.45 1092.94 1730.91 1091.29 1740.34 1089.88 1749.73 1088.71 1759.06 1087.78 1768.34 1087.08 1777.54 1086.64 1786.65 1086.46 1795.66 1086.54 1804.57 1086.89 1811.6 1087.37 1820.29 1088.25 1827.14 1089.16 1833.9 1090.28 1840.56 1091.62 1848.74 1093.59 1855.18 1095.43 1861.5 1097.52 1867.71 1099.85 1873.81 1102.45 1879.79 1105.32 1885.65 1108.49 1891.39 1111.95 1897 1115.74 1902.49 1119.85 1907.86 1124.32 1911.8 1127.9 1915.67 1131.7 1919.47 1135.71 1923.19 1139.95 1926.85 1144.42 1930.43 1149.13 1933.94 1154.08 1937.39 1159.28 1939.64 1162.89 1942.97 1168.53 1946.22 1174.43 1949.41 1180.6 1952.53 1187.04 1957.58 1198.4 1960.53 1205.58 1963.41 1213.05 1968.08 1226.1 1970.8 1234.29 1973.46 1242.73 1978.61 1260.35 1983.55 1278.84 1988.28 1298.03 1992.84 1317.67 1997.23 1337.47 2006.27 1379.15 2010.26 1396.87 2014.17 1413 2017.37 1424.89 2019.91 1433.21 2021.81 1438.69 2023.7 1443.48 2025.59 1447.53 2026.84 1449.82 2028.1 1451.76 2029.99 1454.03 2031.26 1455.11 2031.89 1455.52 2032.53 1455.84 2033.8 1456.23 2034.44 1456.29 2035.72 1456.16 2036.36 1455.97 2037.65 1455.34 2038.3 1454.91 2039.6 1453.79 2041.57 1451.53 2043.56 1448.6 2045.58 1445.04 2047.62 1440.88 2050.39 1434.5 2053.94 1425.33 2057.59 1415.03 2062.11 1401.5 2075.97 1359.08 2081.27 1343.56 2085.87 1330.66 2091.61 1315.4 2096.6 1302.93 2102.81 1288.38 2108.2 1276.63 2113.78 1265.26 2118.39 1256.46 2124.32 1245.84 2129.21 1237.64 2134.23 1229.72 2140.68 1220.2 2145.98 1212.89 2152.7 1204.23" stroke="#0000ff" stroke-width="1.7" fill="none" stroke-linejoin="round" clip-path="url(#c5)"/>
<path d="M1269.3 1247.66 1274.19 1243.79 1278.18 1240.35 1283.39 1235.45 1287.21 1231.52 1292.19 1225.94 1295.85 1221.48 1299.43 1216.79 1302.94 1211.86 1307.52 1204.88 1310.87 1199.35 1314.15 1193.56 1317.36 1187.5 1320.5 1181.17 1323.57 1174.56 1326.58 1167.67 1329.53 1160.51 1332.41 1153.07 1335.23 1145.36 1337.99 1137.37 1340.69 1129.12 1343.33 1120.62 1345.91 1111.87 1348.44 1102.9 1351.74 1090.61 1356.51 1071.59 1361.09 1052.07 1365.51 1032.33 1375.27 987.5 1379.26 969.83 1383.17 953.75 1385.09 946.46 1387.01 939.72 1389.54 931.71 1391.44 926.47 1393.33 921.94 1395.21 918.15 1396.47 916.04 1397.73 914.27 1399.63 912.27 1400.26 911.78 1401.53 911.05 1402.16 910.81 1403.44 910.6 1404.72 910.73 1405.36 910.92 1406.65 911.54 1407.3 911.98 1408.6 913.09 1410.57 915.34 1412.56 918.27 1414.58 921.82 1416.62 925.96 1419.39 932.32 1422.94 941.46 1427.33 953.89 1444.97 1007.5 1449.37 1020.4 1453.94 1033.27 1458.67 1046.01 1463.58 1058.53 1468.67 1070.79 1473.95 1082.71 1479.41 1094.27 1483.92 1103.24 1488.56 1111.95 1493.32 1120.39 1498.21 1128.55 1503.23 1136.45 1508.37 1144.08 1514.98 1153.23 1521.78 1161.97 1528.78 1170.3 1535.98 1178.23 1540.38 1182.8 1544.86 1187.24 1552.46 1194.34 1557.11 1198.43 1561.82 1202.39 1569.81 1208.72 1574.68 1212.36 1579.61 1215.88 1587.95 1221.5 1598.16 1227.83 1608.57 1233.74 1619.15 1239.25 1629.9 1244.36 1640.8 1249.1 1651.83 1253.47 1657.39 1255.52 1664.83 1258.12 1674.19 1261.15 1683.6 1263.94 1693.04 1266.5 1702.51 1268.83 1711.98 1270.93 1721.45 1272.8 1730.91 1274.44 1740.34 1275.84 1749.73 1277.01 1759.06 1277.95 1768.34 1278.64 1777.54 1279.08 1786.65 1279.26 1795.66 1279.18 1804.57 1278.83 1811.6 1278.35 1820.29 1277.48 1827.14 1276.56 1833.9 1275.45 1840.56 1274.12 1848.74 1272.15 1855.18 1270.31 1861.5 1268.24 1867.71 1265.91 1873.81 1263.32 1879.79 1260.45 1885.65 1257.3 1891.39 1253.84 1897 1250.07 1902.49 1245.97 1907.86 1241.52 1911.8 1237.95 1915.67 1234.16 1919.47 1230.16 1923.19 1225.94 1926.85 1221.48 1930.43 1216.79 1933.94 1211.86 1937.39 1206.67 1939.64 1203.07 1942.97 1197.45 1946.22 1191.57 1949.41 1185.42 1952.53 1178.99 1957.58 1167.67 1960.53 1160.51 1963.41 1153.07 1968.08 1140.06 1970.8 1131.9 1973.46 1123.48 1978.61 1105.92 1983.55 1087.48 1988.28 1068.36 1992.84 1048.79 1997.23 1029.05 2006.27 987.5 2010.26 969.83 2014.17 953.75 2017.37 941.9 2019.91 933.6 2021.81 928.14 2023.7 923.37 2025.59 919.33 2026.84 917.05 2028.1 915.11 2029.99 912.85 2031.26 911.78 2031.89 911.37 2032.53 911.05 2033.8 910.66 2034.44 910.6 2035.72 910.73 2036.36 910.92 2037.65 911.54 2038.3 911.98 2039.6 913.09 2041.57 915.34 2043.56 918.27 2045.58 921.82 2047.62 925.96 2050.39 932.32 2053.94 941.46 2057.59 951.73 2062.11 965.21 2075.97 1007.5 2081.27 1022.98 2085.87 1035.83 2091.61 1051.05 2096.6 1063.47 2102.81 1077.98 2108.2 1089.69 2113.78 1101.02 2118.39 1109.79 2124.32 1120.39 2129.21 1128.55 2134.23 1136.45 2140.68 1145.94 2145.98 1153.23 2152.7 1161.86" stroke="#ff0000" stroke-width="1.7" fill="none" stroke-linejoin="round" clip-path="url(#c5)"/>
<path d="M1269.3 1183.57H2152.7" stroke="#000" stroke-width="2.1" stroke-dasharray="13.56 8.12" fill="none"/>
<rect x="1516" y="835.8" width="421" height="157.2" fill="#fff" stroke="#262626" stroke-width="1.4"/>
<circle cx="1565.1" cy="857.98" r="3.05" fill="#0000ff"/>
<circle cx="1565.1" cy="895.4" r="3.05" fill="#ff0000"/>
<path d="M1524.22 932.82H1605.4" stroke="#0000ff" stroke-width="1.4"/>
<path d="M1524.22 970.24H1605.4" stroke="#ff0000" stroke-width="1.4"/>
<g font-family="'Liberation Serif', serif" font-size="32.67" fill="#000" stroke="#000" stroke-width="0.4">
<text x="1611.34" y="870.45">Primary RV (data)</text>
<text x="1611.34" y="907.87">Companion RV (data)</text>
<text x="1611.34" y="945.29">Primary RV (model)</text>
<text x="1611.34" y="982.72">Companion RV (model)</text>
</g>
<text transform="translate(1684.5 1465) scale(0.934 1)" font-family="'Liberation Serif', serif" font-size="39.7" fill="#000" stroke="#000" stroke-width="0.5" text-anchor="start">A2983</text>
<path d="M1269.25 812.75H2152.75V1510H1269.25ZM1395.5 1510v-9M1395.5 812.75v9M1521.7 1510v-9M1521.7 812.75v9M1647.9 1510v-9M1647.9 812.75v9M1774.1 1510v-9M1774.1 812.75v9M1900.3 1510v-9M1900.3 812.75v9M2026.5 1510v-9M2026.5 812.75v9M1269.25 1370.5h9M2152.75 1370.5h-9M1269.25 1231h9M2152.75 1231h-9M1269.25 1091.5h9M2152.75 1091.5h-9M1269.25 952h9M2152.75 952h-9" stroke="#262626" stroke-width="1.3" fill="none" stroke-linecap="butt"/>
<g font-family="'Liberation Sans', sans-serif" font-size="29.7" fill="#262626" stroke="#262626" stroke-width="0.3">
<text transform="translate(1269.3 1551) scale(0.905 1)" text-anchor="middle">-0.2</text>
<text transform="translate(1395.5 1551) scale(0.905 1)" text-anchor="middle">0</text>
<text transform="translate(1521.7 1551) scale(0.905 1)" text-anchor="middle">0.2</text>
<text transform="translate(1647.9 1551) scale(0.905 1)" text-anchor="middle">0.4</text>
<text transform="translate(1774.1 1551) scale(0.905 1)" text-anchor="middle">0.6</text>
<text transform="translate(1900.3 1551) scale(0.905 1)" text-anchor="middle">0.8</text>
<text transform="translate(2026.5 1551) scale(0.905 1)" text-anchor="middle">1</text>
<text transform="translate(2152.7 1551) scale(0.905 1)" text-anchor="middle">1.2</text>
<text transform="translate(1258.05 1521.3) scale(0.905 1)" text-anchor="end">-100</text>
<text transform="translate(1258.05 1381.8) scale(0.905 1)" text-anchor="end">-95</text>
<text transform="translate(1258.05 1242.3) scale(0.905 1)" text-anchor="end">-90</text>
<text transform="translate(1258.05 1102.8) scale(0.905 1)" text-anchor="end">-85</text>
<text transform="translate(1258.05 963.3) scale(0.905 1)" text-anchor="end">-80</text>
<text transform="translate(1258.05 823.8) scale(0.905 1)" text-anchor="end">-75</text>
</g>
<g font-family="'Liberation Serif', serif" font-size="37.62" fill="#262626" stroke="#262626" stroke-width="0.4">
<text x="1710.2" y="1593.6" text-anchor="middle">Phase</text>
<text transform="translate(1187.5 1161.38) rotate(-90)" text-anchor="middle">RV [km/s]</text>
</g>
<rect x="1260.75" y="1608.75" width="892.75" height="704.25" fill="#fff"/>
<path d="M1363.8 1608.75V2313M1493.92 1608.75V2313M1624.04 1608.75V2313M1754.16 1608.75V2313M1884.28 1608.75V2313M2014.4 1608.75V2313M2144.52 1608.75V2313M1260.75 2297.5H2153.5M1260.75 2186.3H2153.5M1260.75 2075.1H2153.5M1260.75 1963.9H2153.5M1260.75 1852.7H2153.5M1260.75 1741.5H2153.5M1260.75 1630.3H2153.5" stroke="#dedede" stroke-width="1.5" fill="none"/>
<g fill="#0000ff">
<circle cx="1365" cy="1881.25" r="3.05"/>
<circle cx="2015.6" cy="1881.25" r="3.05"/>
<circle cx="1365.75" cy="1885" r="3.05"/>
<circle cx="2016.35" cy="1885" r="3.05"/>
<circle cx="1366.25" cy="1888.75" r="3.05"/>
<circle cx="2016.85" cy="1888.75" r="3.05"/>
<circle cx="1365" cy="1891.25" r="3.05"/>
<circle cx="2015.6" cy="1891.25" r="3.05"/>
<circle cx="1366.25" cy="1892.5" r="3.05"/>
<circle cx="2016.85" cy="1892.5" r="3.05"/>
<circle cx="1364.5" cy="1895" r="3.05"/>
<circle cx="2015.1" cy="1895" r="3.05"/>
<circle cx="1367.5" cy="1900.75" r="3.05"/>
<circle cx="2018.1" cy="1900.75" r="3.05"/>
<circle cx="1367" cy="1907.5" r="3.05"/>
<circle cx="2017.6" cy="1907.5" r="3.05"/>
<circle cx="1368" cy="1911.25" r="3.05"/>
<circle cx="2018.6" cy="1911.25" r="3.05"/>
<circle cx="1369.25" cy="1917.5" r="3.05"/>
<circle cx="2019.85" cy="1917.5" r="3.05"/>
<circle cx="1370" cy="1920" r="3.05"/>
<circle cx="2020.6" cy="1920" r="3.05"/>
<circle cx="1371.25" cy="1929.5" r="3.05"/>
<circle cx="2021.85" cy="1929.5" r="3.05"/>
<circle cx="1373.25" cy="1940.5" r="3.05"/>
<circle cx="2023.85" cy="1940.5" r="3.05"/>
<circle cx="1377.75" cy="1951.5" r="3.05"/>
<circle cx="2028.35" cy="1951.5" r="3.05"/>
<circle cx="1380" cy="1956.75" r="3.05"/>
<circle cx="2030.6" cy="1956.75" r="3.05"/>
<circle cx="1382.5" cy="1958.25" r="3.05"/>
<circle cx="2033.1" cy="1958.25" r="3.05"/>
<circle cx="1383.75" cy="1960" r="3.05"/>
<circle cx="2034.35" cy="1960" r="3.05"/>
<circle cx="1385" cy="1965" r="3.05"/>
<circle cx="2035.6" cy="1965" r="3.05"/>
<circle cx="1387.5" cy="1965.75" r="3.05"/>
<circle cx="2038.1" cy="1965.75" r="3.05"/>
<circle cx="1405" cy="1980.5" r="3.05"/>
<circle cx="2055.6" cy="1980.5" r="3.05"/>
<circle cx="1407.5" cy="1982.5" r="3.05"/>
<circle cx="2058.1" cy="1982.5" r="3.05"/>
<circle cx="1408.25" cy="1983.75" r="3.05"/>
<circle cx="2058.85" cy="1983.75" r="3.05"/>
<circle cx="1413.75" cy="1985.5" r="3.05"/>
<circle cx="2064.35" cy="1985.5" r="3.05"/>
<circle cx="1421.25" cy="1988.75" r="3.05"/>
<circle cx="2071.85" cy="1988.75" r="3.05"/>
<circle cx="1431.75" cy="1993.75" r="3.05"/>
<circle cx="2082.35" cy="1993.75" r="3.05"/>
<circle cx="1433.75" cy="1997" r="3.05"/>
<circle cx="2084.35" cy="1997" r="3.05"/>
<circle cx="1436.25" cy="1998" r="3.05"/>
<circle cx="2086.85" cy="1998" r="3.05"/>
<circle cx="1438.75" cy="1997" r="3.05"/>
<circle cx="2089.35" cy="1997" r="3.05"/>
<circle cx="1448" cy="1997" r="3.05"/>
<circle cx="2098.6" cy="1997" r="3.05"/>
<circle cx="1450.5" cy="2000" r="3.05"/>
<circle cx="2101.1" cy="2000" r="3.05"/>
<circle cx="1465.75" cy="2003.75" r="3.05"/>
<circle cx="2116.35" cy="2003.75" r="3.05"/>
<circle cx="1470.75" cy="2004.5" r="3.05"/>
<circle cx="2121.35" cy="2004.5" r="3.05"/>
<circle cx="1484.5" cy="2007" r="3.05"/>
<circle cx="2135.1" cy="2007" r="3.05"/>
<circle cx="1486.75" cy="2006" r="3.05"/>
<circle cx="2137.35" cy="2006" r="3.05"/>
<circle cx="1494.25" cy="2008.5" r="3.05"/>
<circle cx="2144.85" cy="2008.5" r="3.05"/>
<circle cx="1503" cy="2013.25" r="3.05"/>
<circle cx="1542.5" cy="2018.5" r="3.05"/>
<circle cx="1570" cy="2022.5" r="3.05"/>
<circle cx="1647" cy="2028.25" r="3.05"/>
<circle cx="1656.25" cy="2032" r="3.05"/>
<circle cx="1704.5" cy="2037" r="3.05"/>
<circle cx="1713.25" cy="2037" r="3.05"/>
<circle cx="1733.75" cy="2037" r="3.05"/>
<circle cx="1751.75" cy="2038.25" r="3.05"/>
<circle cx="1797.5" cy="2047.75" r="3.05"/>
<circle cx="1816" cy="2050" r="3.05"/>
<circle cx="1829" cy="2048.5" r="3.05"/>
<circle cx="1855.25" cy="2050.75" r="3.05"/>
<circle cx="1872.5" cy="2058.5" r="3.05"/>
<circle cx="1891.75" cy="2059.25" r="3.05"/>
<circle cx="1901.25" cy="2066.75" r="3.05"/>
<circle cx="1260.75" cy="2065" r="3.05"/>
<circle cx="1911.35" cy="2065" r="3.05"/>
<circle cx="1290.75" cy="2073.75" r="3.05"/>
<circle cx="1941.35" cy="2073.75" r="3.05"/>
<circle cx="1310" cy="2083.75" r="3.05"/>
<circle cx="1960.6" cy="2083.75" r="3.05"/>
<circle cx="1322.5" cy="2089.25" r="3.05"/>
<circle cx="1973.1" cy="2089.25" r="3.05"/>
<circle cx="1324.5" cy="2093.75" r="3.05"/>
<circle cx="1975.1" cy="2093.75" r="3.05"/>
<circle cx="1337.5" cy="2104.5" r="3.05"/>
<circle cx="1988.1" cy="2104.5" r="3.05"/>
<circle cx="1343.75" cy="2111.25" r="3.05"/>
<circle cx="1994.35" cy="2111.25" r="3.05"/>
<circle cx="1348.25" cy="2121.25" r="3.05"/>
<circle cx="1998.85" cy="2121.25" r="3.05"/>
<circle cx="1348.75" cy="2123.75" r="3.05"/>
<circle cx="1999.35" cy="2123.75" r="3.05"/>
<circle cx="1354.5" cy="2142.5" r="3.05"/>
<circle cx="2005.1" cy="2142.5" r="3.05"/>
<circle cx="1355.75" cy="2150" r="3.05"/>
<circle cx="2006.35" cy="2150" r="3.05"/>
<circle cx="1356.25" cy="2153.75" r="3.05"/>
<circle cx="2006.85" cy="2153.75" r="3.05"/>
<circle cx="1357" cy="2157.5" r="3.05"/>
<circle cx="2007.6" cy="2157.5" r="3.05"/>
<circle cx="1357.5" cy="2162" r="3.05"/>
<circle cx="2008.1" cy="2162" r="3.05"/>
<circle cx="1358.25" cy="2167.5" r="3.05"/>
<circle cx="2008.85" cy="2167.5" r="3.05"/>
<circle cx="1358.75" cy="2171.25" r="3.05"/>
<circle cx="2009.35" cy="2171.25" r="3.05"/>
<circle cx="1359.25" cy="2175" r="3.05"/>
<circle cx="2009.85" cy="2175" r="3.05"/>
<circle cx="1359.5" cy="2178.75" r="3.05"/>
<circle cx="2010.1" cy="2178.75" r="3.05"/>
<circle cx="1359.75" cy="2186.25" r="3.05"/>
<circle cx="2010.35" cy="2186.25" r="3.05"/>
<circle cx="1360" cy="2196.25" r="3.05"/>
<circle cx="2010.6" cy="2196.25" r="3.05"/>
<circle cx="1360.75" cy="2212.5" r="3.05"/>
<circle cx="2011.35" cy="2212.5" r="3.05"/>
<circle cx="1361.25" cy="2215" r="3.05"/>
<circle cx="2011.85" cy="2215" r="3.05"/>
<circle cx="1361.75" cy="2230" r="3.05"/>
<circle cx="2012.35" cy="2230" r="3.05"/>
<circle cx="1362" cy="2235" r="3.05"/>
<circle cx="2012.6" cy="2235" r="3.05"/>
<circle cx="1362.5" cy="2253.75" r="3.05"/>
<circle cx="2013.1" cy="2253.75" r="3.05"/>
<circle cx="1362.75" cy="2257.5" r="3.05"/>
<circle cx="2013.35" cy="2257.5" r="3.05"/>
<circle cx="1362.75" cy="2262.5" r="3.05"/>
<circle cx="2013.35" cy="2262.5" r="3.05"/>
<circle cx="1362.75" cy="2267" r="3.05"/>
<circle cx="2013.35" cy="2267" r="3.05"/>
<circle cx="1363.25" cy="2287.5" r="3.05"/>
<circle cx="2013.85" cy="2287.5" r="3.05"/>
<circle cx="1363.25" cy="2290" r="3.05"/>
<circle cx="2013.85" cy="2290" r="3.05"/>
<circle cx="1363.25" cy="2292.5" r="3.05"/>
<circle cx="2013.85" cy="2292.5" r="3.05"/>
<circle cx="1363.5" cy="2295" r="3.05"/>
<circle cx="2014.1" cy="2295" r="3.05"/>
</g>
<g fill="#ff0000">
<circle cx="1363.5" cy="1630" r="3.05"/>
<circle cx="2014.1" cy="1630" r="3.05"/>
<circle cx="1363.5" cy="1639.5" r="3.05"/>
<circle cx="2014.1" cy="1639.5" r="3.05"/>
<circle cx="1362.75" cy="1665" r="3.05"/>
<circle cx="2013.35" cy="1665" r="3.05"/>
<circle cx="1361.25" cy="1793" r="3.05"/>
<circle cx="2011.85" cy="1793" r="3.05"/>
<circle cx="1361.25" cy="1798.75" r="3.05"/>
<circle cx="2011.85" cy="1798.75" r="3.05"/>
<circle cx="1359.5" cy="1812" r="3.05"/>
<circle cx="2010.1" cy="1812" r="3.05"/>
<circle cx="1357.5" cy="1871.75" r="3.05"/>
<circle cx="2008.1" cy="1871.75" r="3.05"/>
<circle cx="1373.25" cy="2156.75" r="3.05"/>
<circle cx="2023.85" cy="2156.75" r="3.05"/>
<circle cx="1367.5" cy="2222.5" r="3.05"/>
<circle cx="2018.1" cy="2222.5" r="3.05"/>
<circle cx="1366.25" cy="2237.5" r="3.05"/>
<circle cx="2016.85" cy="2237.5" r="3.05"/>
</g>
<path d="M1260.09 2066.12 1270.02 2068.75 1278.07 2071.11 1285.72 2073.6 1292.99 2076.22 1299.85 2078.99 1306.32 2081.94 1312.38 2085.09 1318.06 2088.46 1323.33 2092.08 1327.27 2095.18 1330.07 2097.64 1331.86 2099.35 1335.25 2102.95 1337.64 2105.83 1339.16 2107.83 1342.03 2112.08 1344.68 2116.68 1347.11 2121.67 1349.33 2127.13 1351.35 2133.1 1353.17 2139.67 1354.41 2145.05 1355.92 2152.91 1356.93 2159.39 1358.14 2168.92 1358.95 2176.82 1359.68 2185.45 1360.33 2194.89 1361.41 2216.49 1362 2233.04 1362.48 2251.21 1363.33 2296.91 1363.74 2296.94 1363.96 2235.12 1364.48 1933.47 1364.78 1888.97 1364.98 1881.08 1365.21 1878.81 1365.39 1879.37 1365.59 1881.07 1367.09 1899.11 1368.27 1910.22 1369.75 1920.62 1371.24 1928.56 1372.26 1932.99 1373.37 1937.18 1375.44 1943.65 1376.83 1947.25 1378.32 1950.66 1379.93 1953.89 1381.65 1956.95 1383.49 1959.86 1385.46 1962.62 1387.55 1965.25 1389.76 1967.75 1392.11 1970.14 1394.59 1972.42 1397.2 1974.61 1400.9 1977.38 1403.83 1979.36 1407.96 1981.88 1411.22 1983.69 1415.79 1986 1419.38 1987.67 1424.39 1989.8 1428.32 1991.34 1433.78 1993.31 1442.45 1996.14 1453.28 1999.23 1464.86 2002.15 1477.19 2004.91 1490.23 2007.54 1503.96 2010.05 1520.44 2012.79 1537.71 2015.43 1553.41 2017.65 1569.61 2019.82 1605.73 2024.31 1643.3 2028.67 1738.01 2039.28 1763.14 2042.23 1785.27 2044.95 1809.17 2048.08 1829.9 2051 1849.79 2054.06 1866.67 2056.91 1884.68 2060.3 1894.21 2062.29 1901.58 2063.93 1915.61 2067.39 1922.26 2069.21 1928.67 2071.11 1934.82 2073.09 1940.73 2075.15 1946.38 2077.31 1950.45 2078.99 1955.66 2081.34 1960.61 2083.81 1965.3 2086.41 1968.66 2088.46 1972.91 2091.33 1975.93 2093.61 1978.82 2095.99 1981.57 2098.49 1985.02 2102.03 1987.46 2104.85 1989.76 2107.83 1991.94 2110.99 1993.98 2114.33 1995.91 2117.89 1997.71 2121.67 1999.39 2125.72 2000.96 2130.04 2002.42 2134.68 2003.77 2139.67 2005.01 2145.05 2006.16 2150.87 2006.86 2155.02 2008.45 2166.44 2009.8 2179.61 2010.93 2194.89 2011.85 2212.62 2012.73 2237.45 2013.29 2260.75 2013.93 2296.91 2014.34 2296.94 2014.56 2235.12 2015.08 1933.47 2015.38 1888.97 2015.58 1881.08 2015.81 1878.81 2015.99 1879.37 2016.19 1881.07 2018.05 1902.85 2018.87 1910.22 2019.57 1915.53 2020.63 1922.27 2021.52 1927.03 2022.86 1932.99 2023.97 1937.18 2025.18 1941.13 2026.95 1946.07 2028.92 1950.66 2031.09 1954.93 2033.46 1958.9 2036.06 1962.62 2038.87 1966.09 2041.91 1969.36 2045.19 1972.42 2048.7 1975.32 2052.46 1978.05 2057.5 1981.27 2061.82 1983.69 2067.57 1986.57 2072.46 1988.75 2078.92 1991.34 2084.38 1993.31 2091.56 1995.68 2099.14 1997.93 2107.11 2000.09 2115.46 2002.15 2124.2 2004.14 2133.3 2006.05 2144.52 2008.24" stroke="#0000ff" stroke-width="1.7" fill="none" stroke-linejoin="round" clip-path="url(#c6)"/>
<path d="M1260.09 1990.92 1270.02 1987.15 1278.07 1983.76 1285.72 1980.19 1292.99 1976.43 1299.85 1972.45 1306.32 1968.22 1312.38 1963.7 1315.83 1960.84 1318.06 1958.87 1321.27 1955.8 1323.33 1953.67 1327.27 1949.22 1330.07 1945.69 1331.86 1943.24 1335.25 1938.07 1337.64 1933.95 1339.16 1931.07 1342.03 1924.98 1344.68 1918.38 1347.11 1911.21 1349.33 1903.39 1351.35 1894.82 1353.17 1885.39 1354.41 1877.66 1355.92 1866.39 1356.93 1857.09 1358.14 1843.42 1358.95 1832.08 1359.68 1819.7 1360.33 1806.15 1360.9 1791.34 1361.57 1769.47 1362.48 1725.35 1363.39 1655.88 1363.74 1655.88 1363.96 1748.44 1364.48 2181.24 1364.78 2245.09 1364.98 2256.42 1365.21 2259.68 1365.39 2258.87 1365.59 2256.44 1367.09 2230.55 1368.27 2214.61 1369.75 2199.68 1371.24 2188.29 1372.26 2181.94 1373.37 2175.93 1375.44 2166.64 1376.83 2161.47 1378.32 2156.58 1379.93 2151.95 1381.65 2147.56 1383.49 2143.39 1385.46 2139.43 1387.55 2135.66 1389.76 2132.06 1392.11 2128.63 1394.59 2125.36 1397.2 2122.22 1400.9 2118.24 1403.83 2115.4 1407.96 2111.78 1411.22 2109.19 1415.79 2105.87 1419.38 2103.48 1424.39 2100.43 1428.32 2098.22 1433.78 2095.38 1442.45 2091.33 1447 2089.39 1453.28 2086.89 1464.86 2082.7 1477.19 2078.74 1490.23 2074.97 1503.96 2071.37 1520.44 2067.44 1537.71 2063.66 1553.41 2060.46 1569.61 2057.35 1586.25 2054.31 1605.73 2050.9 1643.3 2044.66 1738.01 2029.43 1763.14 2025.19 1785.27 2021.29 1809.17 2016.81 1832.16 2012.14 1851.94 2007.73 1868.73 2003.61 1878.8 2000.92 1886.62 1998.71 1896.08 1995.84 1903.39 1993.46 1910.46 1991 1917.3 1988.46 1923.89 1985.81 1930.23 1983.06 1936.32 1980.19 1942.17 1977.2 1947.75 1974.07 1951.78 1971.62 1956.92 1968.22 1961.8 1964.63 1966.43 1960.84 1969.74 1957.86 1973.93 1953.67 1976.91 1950.36 1979.75 1946.89 1982.46 1943.24 1985.85 1938.07 1988.24 1933.95 1990.5 1929.59 1992.63 1924.98 1994.64 1920.08 1996.52 1914.87 1998.29 1909.32 1999.93 1903.39 2001.46 1897.04 2002.88 1890.22 2004.2 1882.88 2005.01 1877.66 2006.16 1869.32 2006.86 1863.37 2008.45 1846.99 2009.8 1828.08 2010.93 1806.15 2011.68 1786.11 2012.46 1757.59 2013.18 1718.55 2013.99 1655.88 2014.34 1655.88 2014.56 1748.44 2015.08 2181.24 2015.38 2245.09 2015.58 2256.42 2015.81 2259.68 2015.99 2258.87 2016.19 2256.44 2018.05 2225.18 2018.87 2214.61 2019.57 2206.98 2020.63 2197.32 2021.52 2190.49 2022.86 2181.94 2023.97 2175.93 2025.18 2170.25 2026.95 2163.16 2028.92 2156.58 2031.09 2150.46 2033.46 2144.75 2036.06 2139.43 2038.87 2134.44 2041.91 2129.76 2045.19 2125.36 2048.7 2121.21 2052.46 2117.28 2057.5 2112.67 2061.82 2109.19 2067.57 2105.07 2072.46 2101.94 2078.92 2098.22 2084.38 2095.38 2091.56 2091.99 2099.14 2088.76 2107.11 2085.67 2115.46 2082.7 2124.2 2079.85 2133.3 2077.1 2144.52 2073.97" stroke="#ff0000" stroke-width="1.7" fill="none" stroke-linejoin="round" clip-path="url(#c6)"/>
<path d="M1260.09 2035.35H2144.52" stroke="#000" stroke-width="2.1" stroke-dasharray="13.7 8.2" fill="none"/>
<rect x="1477.5" y="1630.6" width="425.25" height="159.15" fill="#fff" stroke="#262626" stroke-width="1.4"/>
<circle cx="1527.1" cy="1653" r="3.05" fill="#0000ff"/>
<circle cx="1527.1" cy="1690.8" r="3.05" fill="#ff0000"/>
<path d="M1485.8 1728.6H1567.8" stroke="#0000ff" stroke-width="1.4"/>
<path d="M1485.8 1766.4H1567.8" stroke="#ff0000" stroke-width="1.4"/>
<g font-family="'Liberation Serif', serif" font-size="33" fill="#000" stroke="#000" stroke-width="0.4">
<text x="1573.8" y="1665.6">Primary RV (data)</text>
<text x="1573.8" y="1703.4">Companion RV (data)</text>
<text x="1573.8" y="1741.2">Primary RV (model)</text>
<text x="1573.8" y="1779">Companion RV (model)</text>
</g>
<text transform="translate(1588.3 2287.5) scale(0.955 1)" font-family="'Liberation Serif', serif" font-size="40.1" fill="#000" stroke="#000" stroke-width="0.5" text-anchor="start">Bag25Aa,Ab</text>
<path d="M1260.75 1608.75H2153.5V2313H1260.75ZM1363.8 2313v-9M1363.8 1608.75v9M1493.92 2313v-9M1493.92 1608.75v9M1624.04 2313v-9M1624.04 1608.75v9M1754.16 2313v-9M1754.16 1608.75v9M1884.28 2313v-9M1884.28 1608.75v9M2014.4 2313v-9M2014.4 1608.75v9M2144.52 2313v-9M2144.52 1608.75v9M1260.75 2297.5h9M2153.5 2297.5h-9M1260.75 2186.3h9M2153.5 2186.3h-9M1260.75 2075.1h9M2153.5 2075.1h-9M1260.75 1963.9h9M2153.5 1963.9h-9M1260.75 1852.7h9M2153.5 1852.7h-9M1260.75 1741.5h9M2153.5 1741.5h-9M1260.75 1630.3h9M2153.5 1630.3h-9" stroke="#262626" stroke-width="1.3" fill="none" stroke-linecap="butt"/>
<g font-family="'Liberation Sans', sans-serif" font-size="30" fill="#262626" stroke="#262626" stroke-width="0.3">
<text transform="translate(1363.8 2354) scale(0.905 1)" text-anchor="middle">0</text>
<text transform="translate(1493.92 2354) scale(0.905 1)" text-anchor="middle">0.2</text>
<text transform="translate(1624.04 2354) scale(0.905 1)" text-anchor="middle">0.4</text>
<text transform="translate(1754.16 2354) scale(0.905 1)" text-anchor="middle">0.6</text>
<text transform="translate(1884.28 2354) scale(0.905 1)" text-anchor="middle">0.8</text>
<text transform="translate(2014.4 2354) scale(0.905 1)" text-anchor="middle">1</text>
<text transform="translate(2144.52 2354) scale(0.905 1)" text-anchor="middle">1.2</text>
<text transform="translate(1248.45 2308.8) scale(0.905 1)" text-anchor="end">-40</text>
<text transform="translate(1248.45 2197.6) scale(0.905 1)" text-anchor="end">-20</text>
<text transform="translate(1248.45 2086.4) scale(0.905 1)" text-anchor="end">0</text>
<text transform="translate(1248.45 1975.2) scale(0.905 1)" text-anchor="end">20</text>
<text transform="translate(1248.45 1864) scale(0.905 1)" text-anchor="end">40</text>
<text transform="translate(1248.45 1752.8) scale(0.905 1)" text-anchor="end">60</text>
<text transform="translate(1248.45 1641.6) scale(0.905 1)" text-anchor="end">80</text>
</g>
<g font-family="'Liberation Serif', serif" font-size="38" fill="#262626" stroke="#262626" stroke-width="0.4">
<text x="1706.33" y="2396.6" text-anchor="middle">Phase</text>
<text transform="translate(1194 1960.88) rotate(-90)" text-anchor="middle">RV [km/s]</text>
</g>
</svg>
</body></html>
